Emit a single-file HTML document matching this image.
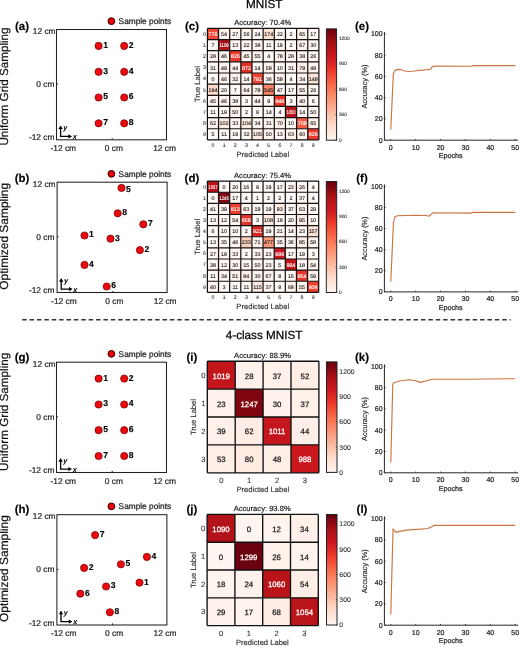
<!DOCTYPE html>
<html><head><meta charset="utf-8"><title>MNIST sampling figure</title>
<style>
html,body{margin:0;padding:0;background:#fff;}
body{width:520px;height:648px;overflow:hidden;}
svg{display:block;font-family:"Liberation Sans", Arial, sans-serif;text-rendering:geometricPrecision;}
</style></head>
<body>
<svg width="520" height="648" viewBox="0 0 520 648">
<rect width="520" height="648" fill="#fff"/>
<text x="264.3" y="8.3" font-size="11.7" text-anchor="middle" fill="#000" stroke="#000" stroke-width="0.25">MNIST</text>
<text transform="translate(8.4,86.5) rotate(-90)" font-size="11.7" text-anchor="middle" fill="#111" stroke="#111" stroke-width="0.2">Uniform Grid Sampling</text>
<circle cx="111.4" cy="21.15" r="3.4" fill="#e8000b" stroke="#3a0000" stroke-width="1.0"/>
<text x="118.6" y="24.2" font-size="8.3" text-anchor="start" fill="#1a1a1a" stroke="#1a1a1a" stroke-width="0.22">Sample points</text>
<rect x="56.5" y="29.5" width="110" height="110.3" fill="none" stroke="#222" stroke-width="1.05"/>
<line x1="56.5" y1="84.15" x2="58.1" y2="84.15" stroke="#222" stroke-width="1"/>
<line x1="112.2" y1="139.8" x2="112.2" y2="138.2" stroke="#222" stroke-width="1"/>
<text x="55.6" y="34" font-size="8.4" text-anchor="end" fill="#262626" stroke="#262626" stroke-width="0.22">12 cm</text>
<text x="54.5" y="86.85" font-size="8.4" text-anchor="end" fill="#262626" stroke="#262626" stroke-width="0.22">0 cm</text>
<text x="54.5" y="140.4" font-size="8.4" text-anchor="end" fill="#262626" stroke="#262626" stroke-width="0.22">-12 cm</text>
<text x="63.3" y="151.2" font-size="8.4" text-anchor="middle" fill="#262626" stroke="#262626" stroke-width="0.22">-12 cm</text>
<text x="113.8" y="151.2" font-size="8.4" text-anchor="middle" fill="#262626" stroke="#262626" stroke-width="0.22">0 cm</text>
<text x="164.6" y="151.2" font-size="8.4" text-anchor="middle" fill="#262626" stroke="#262626" stroke-width="0.22">12 cm</text>
<path d="M60.6 127.9 V136.4 M59.95 136.4 H69.6" stroke="#000" stroke-width="1.3" fill="none"/>
<path d="M60.6 125.4 l-2.2 3.6 h4.4 z" fill="#000"/>
<path d="M72 136.4 l-3.6 -2.2 v4.4 z" fill="#000"/>
<text x="63.6" y="130.2" font-size="7" text-anchor="start" font-style="italic" fill="#000" stroke="#000" stroke-width="0.3">y</text>
<text x="73" y="139" font-size="7" text-anchor="start" font-style="italic" fill="#000" stroke="#000" stroke-width="0.3">x</text>
<circle cx="98.6" cy="45.9" r="3.6" fill="#ec0a10" stroke="#780000" stroke-width="0.75"/>
<text x="103.2" y="47.8" font-size="8.6" text-anchor="start" font-weight="bold" fill="#000" stroke="#000" stroke-width="0.15">1</text>
<circle cx="124.2" cy="45.9" r="3.6" fill="#ec0a10" stroke="#780000" stroke-width="0.75"/>
<text x="128.8" y="47.8" font-size="8.6" text-anchor="start" font-weight="bold" fill="#000" stroke="#000" stroke-width="0.15">2</text>
<circle cx="98.6" cy="71.8" r="3.6" fill="#ec0a10" stroke="#780000" stroke-width="0.75"/>
<text x="103.2" y="73.7" font-size="8.6" text-anchor="start" font-weight="bold" fill="#000" stroke="#000" stroke-width="0.15">3</text>
<circle cx="124.2" cy="71.8" r="3.6" fill="#ec0a10" stroke="#780000" stroke-width="0.75"/>
<text x="128.8" y="73.7" font-size="8.6" text-anchor="start" font-weight="bold" fill="#000" stroke="#000" stroke-width="0.15">4</text>
<circle cx="98.6" cy="97.5" r="3.6" fill="#ec0a10" stroke="#780000" stroke-width="0.75"/>
<text x="103.2" y="99.4" font-size="8.6" text-anchor="start" font-weight="bold" fill="#000" stroke="#000" stroke-width="0.15">5</text>
<circle cx="124.2" cy="97.5" r="3.6" fill="#ec0a10" stroke="#780000" stroke-width="0.75"/>
<text x="128.8" y="99.4" font-size="8.6" text-anchor="start" font-weight="bold" fill="#000" stroke="#000" stroke-width="0.15">6</text>
<circle cx="98.6" cy="123.3" r="3.6" fill="#ec0a10" stroke="#780000" stroke-width="0.75"/>
<text x="103.2" y="125.2" font-size="8.6" text-anchor="start" font-weight="bold" fill="#000" stroke="#000" stroke-width="0.15">7</text>
<circle cx="124.2" cy="123.3" r="3.6" fill="#ec0a10" stroke="#780000" stroke-width="0.75"/>
<text x="128.8" y="125.2" font-size="8.6" text-anchor="start" font-weight="bold" fill="#000" stroke="#000" stroke-width="0.15">8</text>
<rect x="207.4" y="28.4" width="11.15" height="11.15" fill="#f24734"/>
<rect x="218.55" y="28.4" width="11.15" height="11.15" fill="#fff3ed"/>
<rect x="229.7" y="28.4" width="11.15" height="11.15" fill="#fff7f2"/>
<rect x="240.85" y="28.4" width="11.15" height="11.15" fill="#fff3ed"/>
<rect x="252" y="28.4" width="11.15" height="11.15" fill="#fff7f3"/>
<rect x="263.15" y="28.4" width="11.15" height="11.15" fill="#fedecf"/>
<rect x="274.3" y="28.4" width="11.15" height="11.15" fill="#fff7f3"/>
<rect x="285.45" y="28.4" width="11.15" height="11.15" fill="#fff9f7"/>
<rect x="296.6" y="28.4" width="11.15" height="11.15" fill="#fff2eb"/>
<rect x="307.75" y="28.4" width="11.15" height="11.15" fill="#fff8f4"/>
<rect x="207.4" y="39.55" width="11.15" height="11.15" fill="#fff9f6"/>
<rect x="218.55" y="39.55" width="11.15" height="11.15" fill="#ae1117"/>
<rect x="229.7" y="39.55" width="11.15" height="11.15" fill="#fff8f5"/>
<rect x="240.85" y="39.55" width="11.15" height="11.15" fill="#fff7f3"/>
<rect x="252" y="39.55" width="11.15" height="11.15" fill="#fff5f1"/>
<rect x="263.15" y="39.55" width="11.15" height="11.15" fill="#fff9f5"/>
<rect x="274.3" y="39.55" width="11.15" height="11.15" fill="#fff8f4"/>
<rect x="285.45" y="39.55" width="11.15" height="11.15" fill="#fff9f7"/>
<rect x="296.6" y="39.55" width="11.15" height="11.15" fill="#fff1eb"/>
<rect x="307.75" y="39.55" width="11.15" height="11.15" fill="#fff6f2"/>
<rect x="207.4" y="50.7" width="11.15" height="11.15" fill="#fff6f2"/>
<rect x="218.55" y="50.7" width="11.15" height="11.15" fill="#fff4ef"/>
<rect x="229.7" y="50.7" width="11.15" height="11.15" fill="#ed392b"/>
<rect x="240.85" y="50.7" width="11.15" height="11.15" fill="#fff4ef"/>
<rect x="252" y="50.7" width="11.15" height="11.15" fill="#fff3ed"/>
<rect x="263.15" y="50.7" width="11.15" height="11.15" fill="#fff9f6"/>
<rect x="274.3" y="50.7" width="11.15" height="11.15" fill="#fff0e9"/>
<rect x="285.45" y="50.7" width="11.15" height="11.15" fill="#fff6f2"/>
<rect x="296.6" y="50.7" width="11.15" height="11.15" fill="#fff5f1"/>
<rect x="307.75" y="50.7" width="11.15" height="11.15" fill="#fff7f3"/>
<rect x="207.4" y="61.85" width="11.15" height="11.15" fill="#fff6f2"/>
<rect x="218.55" y="61.85" width="11.15" height="11.15" fill="#fff4ee"/>
<rect x="229.7" y="61.85" width="11.15" height="11.15" fill="#fff4ef"/>
<rect x="240.85" y="61.85" width="11.15" height="11.15" fill="#e33027"/>
<rect x="252" y="61.85" width="11.15" height="11.15" fill="#fff8f4"/>
<rect x="263.15" y="61.85" width="11.15" height="11.15" fill="#fff3ec"/>
<rect x="274.3" y="61.85" width="11.15" height="11.15" fill="#fff9f5"/>
<rect x="285.45" y="61.85" width="11.15" height="11.15" fill="#fff6f2"/>
<rect x="296.6" y="61.85" width="11.15" height="11.15" fill="#ffefe8"/>
<rect x="307.75" y="61.85" width="11.15" height="11.15" fill="#fff4ef"/>
<rect x="207.4" y="73" width="11.15" height="11.15" fill="#fffaf7"/>
<rect x="218.55" y="73" width="11.15" height="11.15" fill="#fff4ef"/>
<rect x="229.7" y="73" width="11.15" height="11.15" fill="#fff6f2"/>
<rect x="240.85" y="73" width="11.15" height="11.15" fill="#fff8f4"/>
<rect x="252" y="73" width="11.15" height="11.15" fill="#f14331"/>
<rect x="263.15" y="73" width="11.15" height="11.15" fill="#fff5f1"/>
<rect x="274.3" y="73" width="11.15" height="11.15" fill="#fff2ec"/>
<rect x="285.45" y="73" width="11.15" height="11.15" fill="#fff9f6"/>
<rect x="296.6" y="73" width="11.15" height="11.15" fill="#fff6f1"/>
<rect x="307.75" y="73" width="11.15" height="11.15" fill="#fee3d6"/>
<rect x="207.4" y="84.15" width="11.15" height="11.15" fill="#fed9c9"/>
<rect x="218.55" y="84.15" width="11.15" height="11.15" fill="#fff7f3"/>
<rect x="229.7" y="84.15" width="11.15" height="11.15" fill="#fff9f6"/>
<rect x="240.85" y="84.15" width="11.15" height="11.15" fill="#fff2eb"/>
<rect x="252" y="84.15" width="11.15" height="11.15" fill="#fff0e9"/>
<rect x="263.15" y="84.15" width="11.15" height="11.15" fill="#fc8565"/>
<rect x="274.3" y="84.15" width="11.15" height="11.15" fill="#fff4ef"/>
<rect x="285.45" y="84.15" width="11.15" height="11.15" fill="#fff8f4"/>
<rect x="296.6" y="84.15" width="11.15" height="11.15" fill="#fff3ed"/>
<rect x="307.75" y="84.15" width="11.15" height="11.15" fill="#fff7f3"/>
<rect x="207.4" y="95.3" width="11.15" height="11.15" fill="#fff4ef"/>
<rect x="218.55" y="95.3" width="11.15" height="11.15" fill="#fff4ef"/>
<rect x="229.7" y="95.3" width="11.15" height="11.15" fill="#fff5f1"/>
<rect x="240.85" y="95.3" width="11.15" height="11.15" fill="#fff9f6"/>
<rect x="252" y="95.3" width="11.15" height="11.15" fill="#fff4ef"/>
<rect x="263.15" y="95.3" width="11.15" height="11.15" fill="#fff9f5"/>
<rect x="274.3" y="95.3" width="11.15" height="11.15" fill="#e93529"/>
<rect x="285.45" y="95.3" width="11.15" height="11.15" fill="#fff9f6"/>
<rect x="296.6" y="95.3" width="11.15" height="11.15" fill="#fff5f0"/>
<rect x="307.75" y="95.3" width="11.15" height="11.15" fill="#fff9f6"/>
<rect x="207.4" y="106.45" width="11.15" height="11.15" fill="#fff9f5"/>
<rect x="218.55" y="106.45" width="11.15" height="11.15" fill="#fff8f4"/>
<rect x="229.7" y="106.45" width="11.15" height="11.15" fill="#fff4ee"/>
<rect x="240.85" y="106.45" width="11.15" height="11.15" fill="#fff9f7"/>
<rect x="252" y="106.45" width="11.15" height="11.15" fill="#fff9f5"/>
<rect x="263.15" y="106.45" width="11.15" height="11.15" fill="#fff8f4"/>
<rect x="274.3" y="106.45" width="11.15" height="11.15" fill="#fff9f6"/>
<rect x="285.45" y="106.45" width="11.15" height="11.15" fill="#bb141a"/>
<rect x="296.6" y="106.45" width="11.15" height="11.15" fill="#fff8f4"/>
<rect x="307.75" y="106.45" width="11.15" height="11.15" fill="#fff4ee"/>
<rect x="207.4" y="117.6" width="11.15" height="11.15" fill="#fff2ec"/>
<rect x="218.55" y="117.6" width="11.15" height="11.15" fill="#feece2"/>
<rect x="229.7" y="117.6" width="11.15" height="11.15" fill="#fff6f1"/>
<rect x="240.85" y="117.6" width="11.15" height="11.15" fill="#feece2"/>
<rect x="252" y="117.6" width="11.15" height="11.15" fill="#fff6f1"/>
<rect x="263.15" y="117.6" width="11.15" height="11.15" fill="#fff6f2"/>
<rect x="274.3" y="117.6" width="11.15" height="11.15" fill="#fff1ea"/>
<rect x="285.45" y="117.6" width="11.15" height="11.15" fill="#fff9f5"/>
<rect x="296.6" y="117.6" width="11.15" height="11.15" fill="#f75b40"/>
<rect x="307.75" y="117.6" width="11.15" height="11.15" fill="#fff2eb"/>
<rect x="207.4" y="128.75" width="11.15" height="11.15" fill="#fff9f6"/>
<rect x="218.55" y="128.75" width="11.15" height="11.15" fill="#fff9f5"/>
<rect x="229.7" y="128.75" width="11.15" height="11.15" fill="#fff8f4"/>
<rect x="240.85" y="128.75" width="11.15" height="11.15" fill="#fff6f2"/>
<rect x="252" y="128.75" width="11.15" height="11.15" fill="#feebe2"/>
<rect x="263.15" y="128.75" width="11.15" height="11.15" fill="#fff4ee"/>
<rect x="274.3" y="128.75" width="11.15" height="11.15" fill="#fff8f5"/>
<rect x="285.45" y="128.75" width="11.15" height="11.15" fill="#fff2eb"/>
<rect x="296.6" y="128.75" width="11.15" height="11.15" fill="#fff2ec"/>
<rect x="307.75" y="128.75" width="11.15" height="11.15" fill="#ed392b"/>
<path d="M207.4 28.4V139.9M207.4 28.4H318.9M218.55 28.4V139.9M207.4 39.55H318.9M229.7 28.4V139.9M207.4 50.7H318.9M240.85 28.4V139.9M207.4 61.85H318.9M252 28.4V139.9M207.4 73H318.9M263.15 28.4V139.9M207.4 84.15H318.9M274.3 28.4V139.9M207.4 95.3H318.9M285.45 28.4V139.9M207.4 106.45H318.9M296.6 28.4V139.9M207.4 117.6H318.9M307.75 28.4V139.9M207.4 128.75H318.9M318.9 28.4V139.9M207.4 139.9H318.9" stroke="#111" stroke-width="1.2" fill="none"/>
<text x="212.97" y="36.12" font-size="5.4" text-anchor="middle" fill="#ffffff" stroke="#ffffff" stroke-width="0.12">776</text>
<text x="224.12" y="36.12" font-size="5.4" text-anchor="middle" fill="#222" stroke="#222" stroke-width="0.12">54</text>
<text x="235.28" y="36.12" font-size="5.4" text-anchor="middle" fill="#222" stroke="#222" stroke-width="0.12">27</text>
<text x="246.43" y="36.12" font-size="5.4" text-anchor="middle" fill="#222" stroke="#222" stroke-width="0.12">56</text>
<text x="257.57" y="36.12" font-size="5.4" text-anchor="middle" fill="#222" stroke="#222" stroke-width="0.12">24</text>
<text x="268.73" y="36.12" font-size="5.4" text-anchor="middle" fill="#222" stroke="#222" stroke-width="0.12">174</text>
<text x="279.88" y="36.12" font-size="5.4" text-anchor="middle" fill="#222" stroke="#222" stroke-width="0.12">22</text>
<text x="291.02" y="36.12" font-size="5.4" text-anchor="middle" fill="#222" stroke="#222" stroke-width="0.12">2</text>
<text x="302.18" y="36.12" font-size="5.4" text-anchor="middle" fill="#222" stroke="#222" stroke-width="0.12">65</text>
<text x="313.32" y="36.12" font-size="5.4" text-anchor="middle" fill="#222" stroke="#222" stroke-width="0.12">17</text>
<text x="212.97" y="47.27" font-size="5.4" text-anchor="middle" fill="#222" stroke="#222" stroke-width="0.12">7</text>
<text x="224.12" y="47.27" font-size="5.4" text-anchor="middle" fill="#ffffff" textLength="9.2" lengthAdjust="spacingAndGlyphs" stroke="#ffffff" stroke-width="0.12">1109</text>
<text x="235.28" y="47.27" font-size="5.4" text-anchor="middle" fill="#222" stroke="#222" stroke-width="0.12">13</text>
<text x="246.43" y="47.27" font-size="5.4" text-anchor="middle" fill="#222" stroke="#222" stroke-width="0.12">22</text>
<text x="257.57" y="47.27" font-size="5.4" text-anchor="middle" fill="#222" stroke="#222" stroke-width="0.12">38</text>
<text x="268.73" y="47.27" font-size="5.4" text-anchor="middle" fill="#222" stroke="#222" stroke-width="0.12">11</text>
<text x="279.88" y="47.27" font-size="5.4" text-anchor="middle" fill="#222" stroke="#222" stroke-width="0.12">19</text>
<text x="291.02" y="47.27" font-size="5.4" text-anchor="middle" fill="#222" stroke="#222" stroke-width="0.12">2</text>
<text x="302.18" y="47.27" font-size="5.4" text-anchor="middle" fill="#222" stroke="#222" stroke-width="0.12">67</text>
<text x="313.32" y="47.27" font-size="5.4" text-anchor="middle" fill="#222" stroke="#222" stroke-width="0.12">30</text>
<text x="212.97" y="58.42" font-size="5.4" text-anchor="middle" fill="#222" stroke="#222" stroke-width="0.12">28</text>
<text x="224.12" y="58.42" font-size="5.4" text-anchor="middle" fill="#222" stroke="#222" stroke-width="0.12">46</text>
<text x="235.28" y="58.42" font-size="5.4" text-anchor="middle" fill="#ffffff" stroke="#ffffff" stroke-width="0.12">826</text>
<text x="246.43" y="58.42" font-size="5.4" text-anchor="middle" fill="#222" stroke="#222" stroke-width="0.12">45</text>
<text x="257.57" y="58.42" font-size="5.4" text-anchor="middle" fill="#222" stroke="#222" stroke-width="0.12">55</text>
<text x="268.73" y="58.42" font-size="5.4" text-anchor="middle" fill="#222" stroke="#222" stroke-width="0.12">4</text>
<text x="279.88" y="58.42" font-size="5.4" text-anchor="middle" fill="#222" stroke="#222" stroke-width="0.12">78</text>
<text x="291.02" y="58.42" font-size="5.4" text-anchor="middle" fill="#222" stroke="#222" stroke-width="0.12">28</text>
<text x="302.18" y="58.42" font-size="5.4" text-anchor="middle" fill="#222" stroke="#222" stroke-width="0.12">38</text>
<text x="313.32" y="58.42" font-size="5.4" text-anchor="middle" fill="#222" stroke="#222" stroke-width="0.12">26</text>
<text x="212.97" y="69.57" font-size="5.4" text-anchor="middle" fill="#222" stroke="#222" stroke-width="0.12">31</text>
<text x="224.12" y="69.57" font-size="5.4" text-anchor="middle" fill="#222" stroke="#222" stroke-width="0.12">49</text>
<text x="235.28" y="69.57" font-size="5.4" text-anchor="middle" fill="#222" stroke="#222" stroke-width="0.12">44</text>
<text x="246.43" y="69.57" font-size="5.4" text-anchor="middle" fill="#ffffff" stroke="#ffffff" stroke-width="0.12">872</text>
<text x="257.57" y="69.57" font-size="5.4" text-anchor="middle" fill="#222" stroke="#222" stroke-width="0.12">14</text>
<text x="268.73" y="69.57" font-size="5.4" text-anchor="middle" fill="#222" stroke="#222" stroke-width="0.12">58</text>
<text x="279.88" y="69.57" font-size="5.4" text-anchor="middle" fill="#222" stroke="#222" stroke-width="0.12">10</text>
<text x="291.02" y="69.57" font-size="5.4" text-anchor="middle" fill="#222" stroke="#222" stroke-width="0.12">31</text>
<text x="302.18" y="69.57" font-size="5.4" text-anchor="middle" fill="#222" stroke="#222" stroke-width="0.12">79</text>
<text x="313.32" y="69.57" font-size="5.4" text-anchor="middle" fill="#222" stroke="#222" stroke-width="0.12">48</text>
<text x="212.97" y="80.72" font-size="5.4" text-anchor="middle" fill="#222" stroke="#222" stroke-width="0.12">0</text>
<text x="224.12" y="80.72" font-size="5.4" text-anchor="middle" fill="#222" stroke="#222" stroke-width="0.12">46</text>
<text x="235.28" y="80.72" font-size="5.4" text-anchor="middle" fill="#222" stroke="#222" stroke-width="0.12">32</text>
<text x="246.43" y="80.72" font-size="5.4" text-anchor="middle" fill="#222" stroke="#222" stroke-width="0.12">14</text>
<text x="257.57" y="80.72" font-size="5.4" text-anchor="middle" fill="#ffffff" stroke="#ffffff" stroke-width="0.12">791</text>
<text x="268.73" y="80.72" font-size="5.4" text-anchor="middle" fill="#222" stroke="#222" stroke-width="0.12">36</text>
<text x="279.88" y="80.72" font-size="5.4" text-anchor="middle" fill="#222" stroke="#222" stroke-width="0.12">59</text>
<text x="291.02" y="80.72" font-size="5.4" text-anchor="middle" fill="#222" stroke="#222" stroke-width="0.12">4</text>
<text x="302.18" y="80.72" font-size="5.4" text-anchor="middle" fill="#222" stroke="#222" stroke-width="0.12">34</text>
<text x="313.32" y="80.72" font-size="5.4" text-anchor="middle" fill="#222" stroke="#222" stroke-width="0.12">149</text>
<text x="212.97" y="91.87" font-size="5.4" text-anchor="middle" fill="#222" stroke="#222" stroke-width="0.12">194</text>
<text x="224.12" y="91.87" font-size="5.4" text-anchor="middle" fill="#222" stroke="#222" stroke-width="0.12">20</text>
<text x="235.28" y="91.87" font-size="5.4" text-anchor="middle" fill="#222" stroke="#222" stroke-width="0.12">7</text>
<text x="246.43" y="91.87" font-size="5.4" text-anchor="middle" fill="#222" stroke="#222" stroke-width="0.12">64</text>
<text x="257.57" y="91.87" font-size="5.4" text-anchor="middle" fill="#222" stroke="#222" stroke-width="0.12">78</text>
<text x="268.73" y="91.87" font-size="5.4" text-anchor="middle" fill="#222" stroke="#222" stroke-width="0.12">545</text>
<text x="279.88" y="91.87" font-size="5.4" text-anchor="middle" fill="#222" stroke="#222" stroke-width="0.12">47</text>
<text x="291.02" y="91.87" font-size="5.4" text-anchor="middle" fill="#222" stroke="#222" stroke-width="0.12">17</text>
<text x="302.18" y="91.87" font-size="5.4" text-anchor="middle" fill="#222" stroke="#222" stroke-width="0.12">55</text>
<text x="313.32" y="91.87" font-size="5.4" text-anchor="middle" fill="#222" stroke="#222" stroke-width="0.12">26</text>
<text x="212.97" y="103.02" font-size="5.4" text-anchor="middle" fill="#222" stroke="#222" stroke-width="0.12">45</text>
<text x="224.12" y="103.02" font-size="5.4" text-anchor="middle" fill="#222" stroke="#222" stroke-width="0.12">46</text>
<text x="235.28" y="103.02" font-size="5.4" text-anchor="middle" fill="#222" stroke="#222" stroke-width="0.12">38</text>
<text x="246.43" y="103.02" font-size="5.4" text-anchor="middle" fill="#222" stroke="#222" stroke-width="0.12">3</text>
<text x="257.57" y="103.02" font-size="5.4" text-anchor="middle" fill="#222" stroke="#222" stroke-width="0.12">44</text>
<text x="268.73" y="103.02" font-size="5.4" text-anchor="middle" fill="#222" stroke="#222" stroke-width="0.12">9</text>
<text x="279.88" y="103.02" font-size="5.4" text-anchor="middle" fill="#ffffff" stroke="#ffffff" stroke-width="0.12">848</text>
<text x="291.02" y="103.02" font-size="5.4" text-anchor="middle" fill="#222" stroke="#222" stroke-width="0.12">3</text>
<text x="302.18" y="103.02" font-size="5.4" text-anchor="middle" fill="#222" stroke="#222" stroke-width="0.12">40</text>
<text x="313.32" y="103.02" font-size="5.4" text-anchor="middle" fill="#222" stroke="#222" stroke-width="0.12">6</text>
<text x="212.97" y="114.17" font-size="5.4" text-anchor="middle" fill="#222" stroke="#222" stroke-width="0.12">11</text>
<text x="224.12" y="114.17" font-size="5.4" text-anchor="middle" fill="#222" stroke="#222" stroke-width="0.12">19</text>
<text x="235.28" y="114.17" font-size="5.4" text-anchor="middle" fill="#222" stroke="#222" stroke-width="0.12">50</text>
<text x="246.43" y="114.17" font-size="5.4" text-anchor="middle" fill="#222" stroke="#222" stroke-width="0.12">2</text>
<text x="257.57" y="114.17" font-size="5.4" text-anchor="middle" fill="#222" stroke="#222" stroke-width="0.12">9</text>
<text x="268.73" y="114.17" font-size="5.4" text-anchor="middle" fill="#222" stroke="#222" stroke-width="0.12">14</text>
<text x="279.88" y="114.17" font-size="5.4" text-anchor="middle" fill="#222" stroke="#222" stroke-width="0.12">4</text>
<text x="291.02" y="114.17" font-size="5.4" text-anchor="middle" fill="#ffffff" textLength="9.2" lengthAdjust="spacingAndGlyphs" stroke="#ffffff" stroke-width="0.12">1050</text>
<text x="302.18" y="114.17" font-size="5.4" text-anchor="middle" fill="#222" stroke="#222" stroke-width="0.12">14</text>
<text x="313.32" y="114.17" font-size="5.4" text-anchor="middle" fill="#222" stroke="#222" stroke-width="0.12">50</text>
<text x="212.97" y="125.32" font-size="5.4" text-anchor="middle" fill="#222" stroke="#222" stroke-width="0.12">62</text>
<text x="224.12" y="125.32" font-size="5.4" text-anchor="middle" fill="#222" stroke="#222" stroke-width="0.12">102</text>
<text x="235.28" y="125.32" font-size="5.4" text-anchor="middle" fill="#222" stroke="#222" stroke-width="0.12">33</text>
<text x="246.43" y="125.32" font-size="5.4" text-anchor="middle" fill="#222" stroke="#222" stroke-width="0.12">104</text>
<text x="257.57" y="125.32" font-size="5.4" text-anchor="middle" fill="#222" stroke="#222" stroke-width="0.12">34</text>
<text x="268.73" y="125.32" font-size="5.4" text-anchor="middle" fill="#222" stroke="#222" stroke-width="0.12">31</text>
<text x="279.88" y="125.32" font-size="5.4" text-anchor="middle" fill="#222" stroke="#222" stroke-width="0.12">70</text>
<text x="291.02" y="125.32" font-size="5.4" text-anchor="middle" fill="#222" stroke="#222" stroke-width="0.12">10</text>
<text x="302.18" y="125.32" font-size="5.4" text-anchor="middle" fill="#ffffff" stroke="#ffffff" stroke-width="0.12">709</text>
<text x="313.32" y="125.32" font-size="5.4" text-anchor="middle" fill="#222" stroke="#222" stroke-width="0.12">65</text>
<text x="212.97" y="136.47" font-size="5.4" text-anchor="middle" fill="#222" stroke="#222" stroke-width="0.12">5</text>
<text x="224.12" y="136.47" font-size="5.4" text-anchor="middle" fill="#222" stroke="#222" stroke-width="0.12">11</text>
<text x="235.28" y="136.47" font-size="5.4" text-anchor="middle" fill="#222" stroke="#222" stroke-width="0.12">19</text>
<text x="246.43" y="136.47" font-size="5.4" text-anchor="middle" fill="#222" stroke="#222" stroke-width="0.12">32</text>
<text x="257.57" y="136.47" font-size="5.4" text-anchor="middle" fill="#222" stroke="#222" stroke-width="0.12">105</text>
<text x="268.73" y="136.47" font-size="5.4" text-anchor="middle" fill="#222" stroke="#222" stroke-width="0.12">50</text>
<text x="279.88" y="136.47" font-size="5.4" text-anchor="middle" fill="#222" stroke="#222" stroke-width="0.12">13</text>
<text x="291.02" y="136.47" font-size="5.4" text-anchor="middle" fill="#222" stroke="#222" stroke-width="0.12">63</text>
<text x="302.18" y="136.47" font-size="5.4" text-anchor="middle" fill="#222" stroke="#222" stroke-width="0.12">60</text>
<text x="313.32" y="136.47" font-size="5.4" text-anchor="middle" fill="#ffffff" stroke="#ffffff" stroke-width="0.12">826</text>
<text x="204.4" y="35.85" font-size="5.2" text-anchor="middle" fill="#333" stroke="#333" stroke-width="0.1">0</text>
<text x="212.97" y="146.67" font-size="5.2" text-anchor="middle" fill="#333" stroke="#333" stroke-width="0.1">0</text>
<text x="204.4" y="47" font-size="5.2" text-anchor="middle" fill="#333" stroke="#333" stroke-width="0.1">1</text>
<text x="224.12" y="146.67" font-size="5.2" text-anchor="middle" fill="#333" stroke="#333" stroke-width="0.1">1</text>
<text x="204.4" y="58.15" font-size="5.2" text-anchor="middle" fill="#333" stroke="#333" stroke-width="0.1">2</text>
<text x="235.28" y="146.67" font-size="5.2" text-anchor="middle" fill="#333" stroke="#333" stroke-width="0.1">2</text>
<text x="204.4" y="69.3" font-size="5.2" text-anchor="middle" fill="#333" stroke="#333" stroke-width="0.1">3</text>
<text x="246.43" y="146.67" font-size="5.2" text-anchor="middle" fill="#333" stroke="#333" stroke-width="0.1">3</text>
<text x="204.4" y="80.45" font-size="5.2" text-anchor="middle" fill="#333" stroke="#333" stroke-width="0.1">4</text>
<text x="257.57" y="146.67" font-size="5.2" text-anchor="middle" fill="#333" stroke="#333" stroke-width="0.1">4</text>
<text x="204.4" y="91.6" font-size="5.2" text-anchor="middle" fill="#333" stroke="#333" stroke-width="0.1">5</text>
<text x="268.73" y="146.67" font-size="5.2" text-anchor="middle" fill="#333" stroke="#333" stroke-width="0.1">5</text>
<text x="204.4" y="102.75" font-size="5.2" text-anchor="middle" fill="#333" stroke="#333" stroke-width="0.1">6</text>
<text x="279.88" y="146.67" font-size="5.2" text-anchor="middle" fill="#333" stroke="#333" stroke-width="0.1">6</text>
<text x="204.4" y="113.9" font-size="5.2" text-anchor="middle" fill="#333" stroke="#333" stroke-width="0.1">7</text>
<text x="291.02" y="146.67" font-size="5.2" text-anchor="middle" fill="#333" stroke="#333" stroke-width="0.1">7</text>
<text x="204.4" y="125.05" font-size="5.2" text-anchor="middle" fill="#333" stroke="#333" stroke-width="0.1">8</text>
<text x="302.18" y="146.67" font-size="5.2" text-anchor="middle" fill="#333" stroke="#333" stroke-width="0.1">8</text>
<text x="204.4" y="136.2" font-size="5.2" text-anchor="middle" fill="#333" stroke="#333" stroke-width="0.1">9</text>
<text x="313.32" y="146.67" font-size="5.2" text-anchor="middle" fill="#333" stroke="#333" stroke-width="0.1">9</text>
<text x="262.65" y="25.1" font-size="7.6" text-anchor="middle" fill="#111" stroke="#111" stroke-width="0.15">Accuracy: 70.4%</text>
<text transform="translate(199.7,84.15) rotate(-90)" font-size="7.6" text-anchor="middle" fill="#333" stroke="#333" stroke-width="0.15">True Label</text>
<text x="262.85" y="156.5" font-size="7.6" text-anchor="middle" fill="#333" stroke="#333" stroke-width="0.15">Predicted Label</text>
<defs><linearGradient id="gc" x1="0" y1="0" x2="0" y2="1"><stop offset="0" stop-color="#67000d"/><stop offset="0.12" stop-color="#a50f15"/><stop offset="0.25" stop-color="#cb181d"/><stop offset="0.38" stop-color="#ef3b2c"/><stop offset="0.5" stop-color="#fb6a4a"/><stop offset="0.62" stop-color="#fc9272"/><stop offset="0.75" stop-color="#fcbba1"/><stop offset="0.88" stop-color="#fee0d2"/><stop offset="1" stop-color="#fff5f0"/></linearGradient></defs>
<rect x="326.4" y="28.9" width="10.2" height="111.3" fill="url(#gc)" stroke="#222" stroke-width="1"/>
<line x1="335.3" y1="140.2" x2="336.6" y2="140.2" stroke="#222" stroke-width="0.7"/>
<text x="338.9" y="141.93" font-size="4.8" text-anchor="start" fill="#333" stroke="#333" stroke-width="0.1">0</text>
<line x1="335.3" y1="114.71" x2="336.6" y2="114.71" stroke="#222" stroke-width="0.7"/>
<text x="338.9" y="116.44" font-size="4.8" text-anchor="start" fill="#333" stroke="#333" stroke-width="0.1">300</text>
<line x1="335.3" y1="89.22" x2="336.6" y2="89.22" stroke="#222" stroke-width="0.7"/>
<text x="338.9" y="90.95" font-size="4.8" text-anchor="start" fill="#333" stroke="#333" stroke-width="0.1">600</text>
<line x1="335.3" y1="63.73" x2="336.6" y2="63.73" stroke="#222" stroke-width="0.7"/>
<text x="338.9" y="65.46" font-size="4.8" text-anchor="start" fill="#333" stroke="#333" stroke-width="0.1">900</text>
<line x1="335.3" y1="38.25" x2="336.6" y2="38.25" stroke="#222" stroke-width="0.7"/>
<text x="338.9" y="39.97" font-size="4.8" text-anchor="start" fill="#333" stroke="#333" stroke-width="0.1">1200</text>
<path d="M384.4 32 V140.2 H518.2" stroke="#262626" stroke-width="1" fill="none"/>
<line x1="384.4" y1="140.2" x2="385.7" y2="140.2" stroke="#262626" stroke-width="0.8"/>
<text x="382.6" y="142.72" font-size="7" text-anchor="end" fill="#262626" stroke="#262626" stroke-width="0.22">0</text>
<line x1="384.4" y1="118.94" x2="385.7" y2="118.94" stroke="#262626" stroke-width="0.8"/>
<text x="382.6" y="121.46" font-size="7" text-anchor="end" fill="#262626" stroke="#262626" stroke-width="0.22">20</text>
<line x1="384.4" y1="97.68" x2="385.7" y2="97.68" stroke="#262626" stroke-width="0.8"/>
<text x="382.6" y="100.2" font-size="7" text-anchor="end" fill="#262626" stroke="#262626" stroke-width="0.22">40</text>
<line x1="384.4" y1="76.42" x2="385.7" y2="76.42" stroke="#262626" stroke-width="0.8"/>
<text x="382.6" y="78.94" font-size="7" text-anchor="end" fill="#262626" stroke="#262626" stroke-width="0.22">60</text>
<line x1="384.4" y1="55.16" x2="385.7" y2="55.16" stroke="#262626" stroke-width="0.8"/>
<text x="382.6" y="57.68" font-size="7" text-anchor="end" fill="#262626" stroke="#262626" stroke-width="0.22">80</text>
<line x1="384.4" y1="33.9" x2="385.7" y2="33.9" stroke="#262626" stroke-width="0.8"/>
<text x="382.6" y="36.42" font-size="7" text-anchor="end" fill="#262626" stroke="#262626" stroke-width="0.22">100</text>
<line x1="390.8" y1="140.2" x2="390.8" y2="138.9" stroke="#262626" stroke-width="0.8"/>
<text x="390.8" y="149.72" font-size="7" text-anchor="middle" fill="#262626" stroke="#262626" stroke-width="0.22">0</text>
<line x1="415.68" y1="140.2" x2="415.68" y2="138.9" stroke="#262626" stroke-width="0.8"/>
<text x="415.68" y="149.72" font-size="7" text-anchor="middle" fill="#262626" stroke="#262626" stroke-width="0.22">10</text>
<line x1="440.56" y1="140.2" x2="440.56" y2="138.9" stroke="#262626" stroke-width="0.8"/>
<text x="440.56" y="149.72" font-size="7" text-anchor="middle" fill="#262626" stroke="#262626" stroke-width="0.22">20</text>
<line x1="465.44" y1="140.2" x2="465.44" y2="138.9" stroke="#262626" stroke-width="0.8"/>
<text x="465.44" y="149.72" font-size="7" text-anchor="middle" fill="#262626" stroke="#262626" stroke-width="0.22">30</text>
<line x1="490.32" y1="140.2" x2="490.32" y2="138.9" stroke="#262626" stroke-width="0.8"/>
<text x="490.32" y="149.72" font-size="7" text-anchor="middle" fill="#262626" stroke="#262626" stroke-width="0.22">40</text>
<line x1="515.2" y1="140.2" x2="515.2" y2="138.9" stroke="#262626" stroke-width="0.8"/>
<text x="515.2" y="149.72" font-size="7" text-anchor="middle" fill="#262626" stroke="#262626" stroke-width="0.22">50</text>
<text x="450.7" y="158.4" font-size="7.2" text-anchor="middle" fill="#262626" stroke="#262626" stroke-width="0.22">Epochs</text>
<text transform="translate(367.4,86.55) rotate(-90)" font-size="7.4" text-anchor="middle" fill="#262626" stroke="#262626" stroke-width="0.15">Accuracy (%)</text>
<path d="M390.8 129.75 L393.29 74.2 L394.53 71 L395.4 70.1 L398.76 69.4 L401.5 69.8 L404.73 71.05 L409.46 71.5 L414.19 71.05 L419.66 70.4 L426.38 69.7 L430.36 69.4 L432.35 66.7 L433.84 66.1 L471.66 66.3 L472.9 65.5 L515.2 65.6" stroke="#cc7442" stroke-width="1.15" fill="none" stroke-linejoin="round"/>
<text transform="translate(8.4,236.3) rotate(-90)" font-size="11.95" text-anchor="middle" fill="#111" stroke="#111" stroke-width="0.2">Optimized Sampling</text>
<circle cx="111.4" cy="173.85" r="3.4" fill="#e8000b" stroke="#3a0000" stroke-width="1.0"/>
<text x="118.6" y="176.9" font-size="8.3" text-anchor="start" fill="#1a1a1a" stroke="#1a1a1a" stroke-width="0.22">Sample points</text>
<rect x="57.1" y="182.2" width="110" height="110.3" fill="none" stroke="#222" stroke-width="1.05"/>
<line x1="57.1" y1="236.85" x2="58.7" y2="236.85" stroke="#222" stroke-width="1"/>
<line x1="112.8" y1="292.5" x2="112.8" y2="290.9" stroke="#222" stroke-width="1"/>
<text x="55.6" y="186.7" font-size="8.4" text-anchor="end" fill="#262626" stroke="#262626" stroke-width="0.22">12 cm</text>
<text x="54.5" y="239.55" font-size="8.4" text-anchor="end" fill="#262626" stroke="#262626" stroke-width="0.22">0 cm</text>
<text x="54.5" y="293.1" font-size="8.4" text-anchor="end" fill="#262626" stroke="#262626" stroke-width="0.22">-12 cm</text>
<text x="63.9" y="303.9" font-size="8.4" text-anchor="middle" fill="#262626" stroke="#262626" stroke-width="0.22">-12 cm</text>
<text x="114.4" y="303.9" font-size="8.4" text-anchor="middle" fill="#262626" stroke="#262626" stroke-width="0.22">0 cm</text>
<text x="165.2" y="303.9" font-size="8.4" text-anchor="middle" fill="#262626" stroke="#262626" stroke-width="0.22">12 cm</text>
<path d="M61.2 280.6 V289.1 M60.55 289.1 H70.2" stroke="#000" stroke-width="1.3" fill="none"/>
<path d="M61.2 278.1 l-2.2 3.6 h4.4 z" fill="#000"/>
<path d="M72.6 289.1 l-3.6 -2.2 v4.4 z" fill="#000"/>
<text x="64.2" y="282.9" font-size="7" text-anchor="start" font-style="italic" fill="#000" stroke="#000" stroke-width="0.3">y</text>
<text x="73.6" y="291.7" font-size="7" text-anchor="start" font-style="italic" fill="#000" stroke="#000" stroke-width="0.3">x</text>
<circle cx="121.5" cy="187.9" r="3.6" fill="#ec0a10" stroke="#780000" stroke-width="0.75"/>
<text x="126.1" y="191.8" font-size="8.6" text-anchor="start" font-weight="bold" fill="#000" stroke="#000" stroke-width="0.15">5</text>
<circle cx="117.7" cy="213.3" r="3.6" fill="#ec0a10" stroke="#780000" stroke-width="0.75"/>
<text x="122.3" y="215.2" font-size="8.6" text-anchor="start" font-weight="bold" fill="#000" stroke="#000" stroke-width="0.15">8</text>
<circle cx="143.3" cy="224.3" r="3.6" fill="#ec0a10" stroke="#780000" stroke-width="0.75"/>
<text x="147.9" y="226.2" font-size="8.6" text-anchor="start" font-weight="bold" fill="#000" stroke="#000" stroke-width="0.15">7</text>
<circle cx="84.5" cy="235.5" r="3.6" fill="#ec0a10" stroke="#780000" stroke-width="0.75"/>
<text x="89.1" y="237.4" font-size="8.6" text-anchor="start" font-weight="bold" fill="#000" stroke="#000" stroke-width="0.15">1</text>
<circle cx="110.5" cy="238.7" r="3.6" fill="#ec0a10" stroke="#780000" stroke-width="0.75"/>
<text x="115.1" y="240.6" font-size="8.6" text-anchor="start" font-weight="bold" fill="#000" stroke="#000" stroke-width="0.15">3</text>
<circle cx="139.9" cy="250.1" r="3.6" fill="#ec0a10" stroke="#780000" stroke-width="0.75"/>
<text x="144.5" y="252" font-size="8.6" text-anchor="start" font-weight="bold" fill="#000" stroke="#000" stroke-width="0.15">2</text>
<circle cx="84.5" cy="264.9" r="3.6" fill="#ec0a10" stroke="#780000" stroke-width="0.75"/>
<text x="89.1" y="266.8" font-size="8.6" text-anchor="start" font-weight="bold" fill="#000" stroke="#000" stroke-width="0.15">4</text>
<circle cx="106.7" cy="286.5" r="3.6" fill="#ec0a10" stroke="#780000" stroke-width="0.75"/>
<text x="111.3" y="288.4" font-size="8.6" text-anchor="start" font-weight="bold" fill="#000" stroke="#000" stroke-width="0.15">6</text>
<rect x="207.4" y="181.1" width="11.13" height="11.13" fill="#b71319"/>
<rect x="218.53" y="181.1" width="11.13" height="11.13" fill="#fffaf7"/>
<rect x="229.66" y="181.1" width="11.13" height="11.13" fill="#fff7f3"/>
<rect x="240.79" y="181.1" width="11.13" height="11.13" fill="#fff8f4"/>
<rect x="251.92" y="181.1" width="11.13" height="11.13" fill="#fff9f5"/>
<rect x="263.05" y="181.1" width="11.13" height="11.13" fill="#fff8f4"/>
<rect x="274.18" y="181.1" width="11.13" height="11.13" fill="#fff8f4"/>
<rect x="285.31" y="181.1" width="11.13" height="11.13" fill="#fff7f3"/>
<rect x="296.44" y="181.1" width="11.13" height="11.13" fill="#fff7f3"/>
<rect x="307.57" y="181.1" width="11.13" height="11.13" fill="#fff9f6"/>
<rect x="207.4" y="192.23" width="11.13" height="11.13" fill="#fffaf7"/>
<rect x="218.53" y="192.23" width="11.13" height="11.13" fill="#7f0610"/>
<rect x="229.66" y="192.23" width="11.13" height="11.13" fill="#fff8f4"/>
<rect x="240.79" y="192.23" width="11.13" height="11.13" fill="#fff9f6"/>
<rect x="251.92" y="192.23" width="11.13" height="11.13" fill="#fff9f7"/>
<rect x="263.05" y="192.23" width="11.13" height="11.13" fill="#fff9f7"/>
<rect x="274.18" y="192.23" width="11.13" height="11.13" fill="#fff9f7"/>
<rect x="285.31" y="192.23" width="11.13" height="11.13" fill="#fff9f7"/>
<rect x="296.44" y="192.23" width="11.13" height="11.13" fill="#fff5f1"/>
<rect x="307.57" y="192.23" width="11.13" height="11.13" fill="#fff9f6"/>
<rect x="207.4" y="203.36" width="11.13" height="11.13" fill="#fff5f0"/>
<rect x="218.53" y="203.36" width="11.13" height="11.13" fill="#fff5f0"/>
<rect x="229.66" y="203.36" width="11.13" height="11.13" fill="#ef3d2d"/>
<rect x="240.79" y="203.36" width="11.13" height="11.13" fill="#fff2eb"/>
<rect x="251.92" y="203.36" width="11.13" height="11.13" fill="#fff8f4"/>
<rect x="263.05" y="203.36" width="11.13" height="11.13" fill="#fff8f4"/>
<rect x="274.18" y="203.36" width="11.13" height="11.13" fill="#feede5"/>
<rect x="285.31" y="203.36" width="11.13" height="11.13" fill="#fff5f1"/>
<rect x="296.44" y="203.36" width="11.13" height="11.13" fill="#fff2eb"/>
<rect x="307.57" y="203.36" width="11.13" height="11.13" fill="#fff6f2"/>
<rect x="207.4" y="214.49" width="11.13" height="11.13" fill="#fff8f5"/>
<rect x="218.53" y="214.49" width="11.13" height="11.13" fill="#fff8f5"/>
<rect x="229.66" y="214.49" width="11.13" height="11.13" fill="#fff3ed"/>
<rect x="240.79" y="214.49" width="11.13" height="11.13" fill="#e63328"/>
<rect x="251.92" y="214.49" width="11.13" height="11.13" fill="#fff9f6"/>
<rect x="263.05" y="214.49" width="11.13" height="11.13" fill="#feeae1"/>
<rect x="274.18" y="214.49" width="11.13" height="11.13" fill="#fff8f4"/>
<rect x="285.31" y="214.49" width="11.13" height="11.13" fill="#fff7f3"/>
<rect x="296.44" y="214.49" width="11.13" height="11.13" fill="#feede5"/>
<rect x="307.57" y="214.49" width="11.13" height="11.13" fill="#fff9f5"/>
<rect x="207.4" y="225.62" width="11.13" height="11.13" fill="#fff9f6"/>
<rect x="218.53" y="225.62" width="11.13" height="11.13" fill="#fff9f5"/>
<rect x="229.66" y="225.62" width="11.13" height="11.13" fill="#fff9f5"/>
<rect x="240.79" y="225.62" width="11.13" height="11.13" fill="#fff9f7"/>
<rect x="251.92" y="225.62" width="11.13" height="11.13" fill="#d92523"/>
<rect x="263.05" y="225.62" width="11.13" height="11.13" fill="#fff8f4"/>
<rect x="274.18" y="225.62" width="11.13" height="11.13" fill="#fff7f3"/>
<rect x="285.31" y="225.62" width="11.13" height="11.13" fill="#fff8f4"/>
<rect x="296.44" y="225.62" width="11.13" height="11.13" fill="#fff7f3"/>
<rect x="307.57" y="225.62" width="11.13" height="11.13" fill="#fee1d3"/>
<rect x="207.4" y="236.75" width="11.13" height="11.13" fill="#fff8f5"/>
<rect x="218.53" y="236.75" width="11.13" height="11.13" fill="#fff6f1"/>
<rect x="229.66" y="236.75" width="11.13" height="11.13" fill="#fff4ef"/>
<rect x="240.79" y="236.75" width="11.13" height="11.13" fill="#fdd0bd"/>
<rect x="251.92" y="236.75" width="11.13" height="11.13" fill="#fff1ea"/>
<rect x="263.05" y="236.75" width="11.13" height="11.13" fill="#fc9676"/>
<rect x="274.18" y="236.75" width="11.13" height="11.13" fill="#fff6f1"/>
<rect x="285.31" y="236.75" width="11.13" height="11.13" fill="#fff5f1"/>
<rect x="296.44" y="236.75" width="11.13" height="11.13" fill="#feeee6"/>
<rect x="307.57" y="236.75" width="11.13" height="11.13" fill="#fff3ec"/>
<rect x="207.4" y="247.88" width="11.13" height="11.13" fill="#fff7f2"/>
<rect x="218.53" y="247.88" width="11.13" height="11.13" fill="#fff8f4"/>
<rect x="229.66" y="247.88" width="11.13" height="11.13" fill="#fff6f1"/>
<rect x="240.79" y="247.88" width="11.13" height="11.13" fill="#fff9f7"/>
<rect x="251.92" y="247.88" width="11.13" height="11.13" fill="#fff6f1"/>
<rect x="263.05" y="247.88" width="11.13" height="11.13" fill="#fff7f3"/>
<rect x="274.18" y="247.88" width="11.13" height="11.13" fill="#c7171c"/>
<rect x="285.31" y="247.88" width="11.13" height="11.13" fill="#fff8f4"/>
<rect x="296.44" y="247.88" width="11.13" height="11.13" fill="#fff8f4"/>
<rect x="307.57" y="247.88" width="11.13" height="11.13" fill="#fff9f6"/>
<rect x="207.4" y="259.01" width="11.13" height="11.13" fill="#fff5f1"/>
<rect x="218.53" y="259.01" width="11.13" height="11.13" fill="#fff8f5"/>
<rect x="229.66" y="259.01" width="11.13" height="11.13" fill="#fff6f2"/>
<rect x="240.79" y="259.01" width="11.13" height="11.13" fill="#fff8f4"/>
<rect x="251.92" y="259.01" width="11.13" height="11.13" fill="#fff4ee"/>
<rect x="263.05" y="259.01" width="11.13" height="11.13" fill="#fff7f3"/>
<rect x="274.18" y="259.01" width="11.13" height="11.13" fill="#fff9f6"/>
<rect x="285.31" y="259.01" width="11.13" height="11.13" fill="#c8171c"/>
<rect x="296.44" y="259.01" width="11.13" height="11.13" fill="#fff8f4"/>
<rect x="307.57" y="259.01" width="11.13" height="11.13" fill="#fff3ed"/>
<rect x="207.4" y="270.14" width="11.13" height="11.13" fill="#fff9f5"/>
<rect x="218.53" y="270.14" width="11.13" height="11.13" fill="#fff6f1"/>
<rect x="229.66" y="270.14" width="11.13" height="11.13" fill="#fff3ee"/>
<rect x="240.79" y="270.14" width="11.13" height="11.13" fill="#feeee7"/>
<rect x="251.92" y="270.14" width="11.13" height="11.13" fill="#fff6f2"/>
<rect x="263.05" y="270.14" width="11.13" height="11.13" fill="#fff1eb"/>
<rect x="274.18" y="270.14" width="11.13" height="11.13" fill="#fff9f5"/>
<rect x="285.31" y="270.14" width="11.13" height="11.13" fill="#fff8f4"/>
<rect x="296.44" y="270.14" width="11.13" height="11.13" fill="#e73329"/>
<rect x="307.57" y="270.14" width="11.13" height="11.13" fill="#fff2ec"/>
<rect x="207.4" y="281.27" width="11.13" height="11.13" fill="#fff5f0"/>
<rect x="218.53" y="281.27" width="11.13" height="11.13" fill="#fff9f6"/>
<rect x="229.66" y="281.27" width="11.13" height="11.13" fill="#fff9f5"/>
<rect x="240.79" y="281.27" width="11.13" height="11.13" fill="#fff9f5"/>
<rect x="251.92" y="281.27" width="11.13" height="11.13" fill="#fee9df"/>
<rect x="263.05" y="281.27" width="11.13" height="11.13" fill="#fff5f1"/>
<rect x="274.18" y="281.27" width="11.13" height="11.13" fill="#fff9f5"/>
<rect x="285.31" y="281.27" width="11.13" height="11.13" fill="#fff1eb"/>
<rect x="296.44" y="281.27" width="11.13" height="11.13" fill="#fff3ed"/>
<rect x="307.57" y="281.27" width="11.13" height="11.13" fill="#f03e2e"/>
<path d="M207.4 181.1V292.4M207.4 181.1H318.7M218.53 181.1V292.4M207.4 192.23H318.7M229.66 181.1V292.4M207.4 203.36H318.7M240.79 181.1V292.4M207.4 214.49H318.7M251.92 181.1V292.4M207.4 225.62H318.7M263.05 181.1V292.4M207.4 236.75H318.7M274.18 181.1V292.4M207.4 247.88H318.7M285.31 181.1V292.4M207.4 259.01H318.7M296.44 181.1V292.4M207.4 270.14H318.7M307.57 181.1V292.4M207.4 281.27H318.7M318.7 181.1V292.4M207.4 292.4H318.7" stroke="#111" stroke-width="1.2" fill="none"/>
<text x="212.97" y="188.81" font-size="5.4" text-anchor="middle" fill="#ffffff" textLength="9.2" lengthAdjust="spacingAndGlyphs" stroke="#ffffff" stroke-width="0.12">1067</text>
<text x="224.09" y="188.81" font-size="5.4" text-anchor="middle" fill="#222" stroke="#222" stroke-width="0.12">0</text>
<text x="235.22" y="188.81" font-size="5.4" text-anchor="middle" fill="#222" stroke="#222" stroke-width="0.12">20</text>
<text x="246.36" y="188.81" font-size="5.4" text-anchor="middle" fill="#222" stroke="#222" stroke-width="0.12">16</text>
<text x="257.49" y="188.81" font-size="5.4" text-anchor="middle" fill="#222" stroke="#222" stroke-width="0.12">9</text>
<text x="268.62" y="188.81" font-size="5.4" text-anchor="middle" fill="#222" stroke="#222" stroke-width="0.12">19</text>
<text x="279.75" y="188.81" font-size="5.4" text-anchor="middle" fill="#222" stroke="#222" stroke-width="0.12">17</text>
<text x="290.88" y="188.81" font-size="5.4" text-anchor="middle" fill="#222" stroke="#222" stroke-width="0.12">23</text>
<text x="302" y="188.81" font-size="5.4" text-anchor="middle" fill="#222" stroke="#222" stroke-width="0.12">26</text>
<text x="313.13" y="188.81" font-size="5.4" text-anchor="middle" fill="#222" stroke="#222" stroke-width="0.12">4</text>
<text x="212.97" y="199.94" font-size="5.4" text-anchor="middle" fill="#222" stroke="#222" stroke-width="0.12">0</text>
<text x="224.09" y="199.94" font-size="5.4" text-anchor="middle" fill="#ffffff" textLength="9.2" lengthAdjust="spacingAndGlyphs" stroke="#ffffff" stroke-width="0.12">1246</text>
<text x="235.22" y="199.94" font-size="5.4" text-anchor="middle" fill="#222" stroke="#222" stroke-width="0.12">17</text>
<text x="246.36" y="199.94" font-size="5.4" text-anchor="middle" fill="#222" stroke="#222" stroke-width="0.12">4</text>
<text x="257.49" y="199.94" font-size="5.4" text-anchor="middle" fill="#222" stroke="#222" stroke-width="0.12">1</text>
<text x="268.62" y="199.94" font-size="5.4" text-anchor="middle" fill="#222" stroke="#222" stroke-width="0.12">2</text>
<text x="279.75" y="199.94" font-size="5.4" text-anchor="middle" fill="#222" stroke="#222" stroke-width="0.12">2</text>
<text x="290.88" y="199.94" font-size="5.4" text-anchor="middle" fill="#222" stroke="#222" stroke-width="0.12">2</text>
<text x="302" y="199.94" font-size="5.4" text-anchor="middle" fill="#222" stroke="#222" stroke-width="0.12">37</text>
<text x="313.13" y="199.94" font-size="5.4" text-anchor="middle" fill="#222" stroke="#222" stroke-width="0.12">4</text>
<text x="212.97" y="211.07" font-size="5.4" text-anchor="middle" fill="#222" stroke="#222" stroke-width="0.12">41</text>
<text x="224.09" y="211.07" font-size="5.4" text-anchor="middle" fill="#222" stroke="#222" stroke-width="0.12">39</text>
<text x="235.22" y="211.07" font-size="5.4" text-anchor="middle" fill="#ffffff" stroke="#ffffff" stroke-width="0.12">813</text>
<text x="246.36" y="211.07" font-size="5.4" text-anchor="middle" fill="#222" stroke="#222" stroke-width="0.12">63</text>
<text x="257.49" y="211.07" font-size="5.4" text-anchor="middle" fill="#222" stroke="#222" stroke-width="0.12">19</text>
<text x="268.62" y="211.07" font-size="5.4" text-anchor="middle" fill="#222" stroke="#222" stroke-width="0.12">19</text>
<text x="279.75" y="211.07" font-size="5.4" text-anchor="middle" fill="#222" stroke="#222" stroke-width="0.12">93</text>
<text x="290.88" y="211.07" font-size="5.4" text-anchor="middle" fill="#222" stroke="#222" stroke-width="0.12">37</text>
<text x="302" y="211.07" font-size="5.4" text-anchor="middle" fill="#222" stroke="#222" stroke-width="0.12">63</text>
<text x="313.13" y="211.07" font-size="5.4" text-anchor="middle" fill="#222" stroke="#222" stroke-width="0.12">29</text>
<text x="212.97" y="222.2" font-size="5.4" text-anchor="middle" fill="#222" stroke="#222" stroke-width="0.12">13</text>
<text x="224.09" y="222.2" font-size="5.4" text-anchor="middle" fill="#222" stroke="#222" stroke-width="0.12">12</text>
<text x="235.22" y="222.2" font-size="5.4" text-anchor="middle" fill="#222" stroke="#222" stroke-width="0.12">54</text>
<text x="246.36" y="222.2" font-size="5.4" text-anchor="middle" fill="#ffffff" stroke="#ffffff" stroke-width="0.12">858</text>
<text x="257.49" y="222.2" font-size="5.4" text-anchor="middle" fill="#222" stroke="#222" stroke-width="0.12">3</text>
<text x="268.62" y="222.2" font-size="5.4" text-anchor="middle" fill="#222" stroke="#222" stroke-width="0.12">108</text>
<text x="279.75" y="222.2" font-size="5.4" text-anchor="middle" fill="#222" stroke="#222" stroke-width="0.12">19</text>
<text x="290.88" y="222.2" font-size="5.4" text-anchor="middle" fill="#222" stroke="#222" stroke-width="0.12">20</text>
<text x="302" y="222.2" font-size="5.4" text-anchor="middle" fill="#222" stroke="#222" stroke-width="0.12">95</text>
<text x="313.13" y="222.2" font-size="5.4" text-anchor="middle" fill="#222" stroke="#222" stroke-width="0.12">10</text>
<text x="212.97" y="233.33" font-size="5.4" text-anchor="middle" fill="#222" stroke="#222" stroke-width="0.12">6</text>
<text x="224.09" y="233.33" font-size="5.4" text-anchor="middle" fill="#222" stroke="#222" stroke-width="0.12">10</text>
<text x="235.22" y="233.33" font-size="5.4" text-anchor="middle" fill="#222" stroke="#222" stroke-width="0.12">10</text>
<text x="246.36" y="233.33" font-size="5.4" text-anchor="middle" fill="#222" stroke="#222" stroke-width="0.12">2</text>
<text x="257.49" y="233.33" font-size="5.4" text-anchor="middle" fill="#ffffff" stroke="#ffffff" stroke-width="0.12">921</text>
<text x="268.62" y="233.33" font-size="5.4" text-anchor="middle" fill="#222" stroke="#222" stroke-width="0.12">19</text>
<text x="279.75" y="233.33" font-size="5.4" text-anchor="middle" fill="#222" stroke="#222" stroke-width="0.12">21</text>
<text x="290.88" y="233.33" font-size="5.4" text-anchor="middle" fill="#222" stroke="#222" stroke-width="0.12">14</text>
<text x="302" y="233.33" font-size="5.4" text-anchor="middle" fill="#222" stroke="#222" stroke-width="0.12">23</text>
<text x="313.13" y="233.33" font-size="5.4" text-anchor="middle" fill="#222" stroke="#222" stroke-width="0.12">157</text>
<text x="212.97" y="244.46" font-size="5.4" text-anchor="middle" fill="#222" stroke="#222" stroke-width="0.12">13</text>
<text x="224.09" y="244.46" font-size="5.4" text-anchor="middle" fill="#222" stroke="#222" stroke-width="0.12">35</text>
<text x="235.22" y="244.46" font-size="5.4" text-anchor="middle" fill="#222" stroke="#222" stroke-width="0.12">46</text>
<text x="246.36" y="244.46" font-size="5.4" text-anchor="middle" fill="#222" stroke="#222" stroke-width="0.12">233</text>
<text x="257.49" y="244.46" font-size="5.4" text-anchor="middle" fill="#222" stroke="#222" stroke-width="0.12">71</text>
<text x="268.62" y="244.46" font-size="5.4" text-anchor="middle" fill="#222" stroke="#222" stroke-width="0.12">477</text>
<text x="279.75" y="244.46" font-size="5.4" text-anchor="middle" fill="#222" stroke="#222" stroke-width="0.12">35</text>
<text x="290.88" y="244.46" font-size="5.4" text-anchor="middle" fill="#222" stroke="#222" stroke-width="0.12">36</text>
<text x="302" y="244.46" font-size="5.4" text-anchor="middle" fill="#222" stroke="#222" stroke-width="0.12">85</text>
<text x="313.13" y="244.46" font-size="5.4" text-anchor="middle" fill="#222" stroke="#222" stroke-width="0.12">58</text>
<text x="212.97" y="255.59" font-size="5.4" text-anchor="middle" fill="#222" stroke="#222" stroke-width="0.12">27</text>
<text x="224.09" y="255.59" font-size="5.4" text-anchor="middle" fill="#222" stroke="#222" stroke-width="0.12">19</text>
<text x="235.22" y="255.59" font-size="5.4" text-anchor="middle" fill="#222" stroke="#222" stroke-width="0.12">33</text>
<text x="246.36" y="255.59" font-size="5.4" text-anchor="middle" fill="#222" stroke="#222" stroke-width="0.12">2</text>
<text x="257.49" y="255.59" font-size="5.4" text-anchor="middle" fill="#222" stroke="#222" stroke-width="0.12">33</text>
<text x="268.62" y="255.59" font-size="5.4" text-anchor="middle" fill="#222" stroke="#222" stroke-width="0.12">23</text>
<text x="279.75" y="255.59" font-size="5.4" text-anchor="middle" fill="#ffffff" stroke="#ffffff" stroke-width="0.12">999</text>
<text x="290.88" y="255.59" font-size="5.4" text-anchor="middle" fill="#222" stroke="#222" stroke-width="0.12">17</text>
<text x="302" y="255.59" font-size="5.4" text-anchor="middle" fill="#222" stroke="#222" stroke-width="0.12">19</text>
<text x="313.13" y="255.59" font-size="5.4" text-anchor="middle" fill="#222" stroke="#222" stroke-width="0.12">3</text>
<text x="212.97" y="266.72" font-size="5.4" text-anchor="middle" fill="#222" stroke="#222" stroke-width="0.12">38</text>
<text x="224.09" y="266.72" font-size="5.4" text-anchor="middle" fill="#222" stroke="#222" stroke-width="0.12">12</text>
<text x="235.22" y="266.72" font-size="5.4" text-anchor="middle" fill="#222" stroke="#222" stroke-width="0.12">30</text>
<text x="246.36" y="266.72" font-size="5.4" text-anchor="middle" fill="#222" stroke="#222" stroke-width="0.12">15</text>
<text x="257.49" y="266.72" font-size="5.4" text-anchor="middle" fill="#222" stroke="#222" stroke-width="0.12">50</text>
<text x="268.62" y="266.72" font-size="5.4" text-anchor="middle" fill="#222" stroke="#222" stroke-width="0.12">23</text>
<text x="279.75" y="266.72" font-size="5.4" text-anchor="middle" fill="#222" stroke="#222" stroke-width="0.12">5</text>
<text x="290.88" y="266.72" font-size="5.4" text-anchor="middle" fill="#ffffff" stroke="#ffffff" stroke-width="0.12">994</text>
<text x="302" y="266.72" font-size="5.4" text-anchor="middle" fill="#222" stroke="#222" stroke-width="0.12">18</text>
<text x="313.13" y="266.72" font-size="5.4" text-anchor="middle" fill="#222" stroke="#222" stroke-width="0.12">54</text>
<text x="212.97" y="277.85" font-size="5.4" text-anchor="middle" fill="#222" stroke="#222" stroke-width="0.12">11</text>
<text x="224.09" y="277.85" font-size="5.4" text-anchor="middle" fill="#222" stroke="#222" stroke-width="0.12">34</text>
<text x="235.22" y="277.85" font-size="5.4" text-anchor="middle" fill="#222" stroke="#222" stroke-width="0.12">51</text>
<text x="246.36" y="277.85" font-size="5.4" text-anchor="middle" fill="#222" stroke="#222" stroke-width="0.12">84</text>
<text x="257.49" y="277.85" font-size="5.4" text-anchor="middle" fill="#222" stroke="#222" stroke-width="0.12">30</text>
<text x="268.62" y="277.85" font-size="5.4" text-anchor="middle" fill="#222" stroke="#222" stroke-width="0.12">67</text>
<text x="279.75" y="277.85" font-size="5.4" text-anchor="middle" fill="#222" stroke="#222" stroke-width="0.12">9</text>
<text x="290.88" y="277.85" font-size="5.4" text-anchor="middle" fill="#222" stroke="#222" stroke-width="0.12">16</text>
<text x="302" y="277.85" font-size="5.4" text-anchor="middle" fill="#ffffff" stroke="#ffffff" stroke-width="0.12">854</text>
<text x="313.13" y="277.85" font-size="5.4" text-anchor="middle" fill="#222" stroke="#222" stroke-width="0.12">59</text>
<text x="212.97" y="288.98" font-size="5.4" text-anchor="middle" fill="#222" stroke="#222" stroke-width="0.12">40</text>
<text x="224.09" y="288.98" font-size="5.4" text-anchor="middle" fill="#222" stroke="#222" stroke-width="0.12">3</text>
<text x="235.22" y="288.98" font-size="5.4" text-anchor="middle" fill="#222" stroke="#222" stroke-width="0.12">11</text>
<text x="246.36" y="288.98" font-size="5.4" text-anchor="middle" fill="#222" stroke="#222" stroke-width="0.12">11</text>
<text x="257.49" y="288.98" font-size="5.4" text-anchor="middle" fill="#222" stroke="#222" stroke-width="0.12">115</text>
<text x="268.62" y="288.98" font-size="5.4" text-anchor="middle" fill="#222" stroke="#222" stroke-width="0.12">37</text>
<text x="279.75" y="288.98" font-size="5.4" text-anchor="middle" fill="#222" stroke="#222" stroke-width="0.12">9</text>
<text x="290.88" y="288.98" font-size="5.4" text-anchor="middle" fill="#222" stroke="#222" stroke-width="0.12">68</text>
<text x="302" y="288.98" font-size="5.4" text-anchor="middle" fill="#222" stroke="#222" stroke-width="0.12">55</text>
<text x="313.13" y="288.98" font-size="5.4" text-anchor="middle" fill="#ffffff" stroke="#ffffff" stroke-width="0.12">808</text>
<text x="204.4" y="188.54" font-size="5.2" text-anchor="middle" fill="#333" stroke="#333" stroke-width="0.1">0</text>
<text x="212.97" y="299.17" font-size="5.2" text-anchor="middle" fill="#333" stroke="#333" stroke-width="0.1">0</text>
<text x="204.4" y="199.67" font-size="5.2" text-anchor="middle" fill="#333" stroke="#333" stroke-width="0.1">1</text>
<text x="224.09" y="299.17" font-size="5.2" text-anchor="middle" fill="#333" stroke="#333" stroke-width="0.1">1</text>
<text x="204.4" y="210.8" font-size="5.2" text-anchor="middle" fill="#333" stroke="#333" stroke-width="0.1">2</text>
<text x="235.22" y="299.17" font-size="5.2" text-anchor="middle" fill="#333" stroke="#333" stroke-width="0.1">2</text>
<text x="204.4" y="221.93" font-size="5.2" text-anchor="middle" fill="#333" stroke="#333" stroke-width="0.1">3</text>
<text x="246.36" y="299.17" font-size="5.2" text-anchor="middle" fill="#333" stroke="#333" stroke-width="0.1">3</text>
<text x="204.4" y="233.06" font-size="5.2" text-anchor="middle" fill="#333" stroke="#333" stroke-width="0.1">4</text>
<text x="257.49" y="299.17" font-size="5.2" text-anchor="middle" fill="#333" stroke="#333" stroke-width="0.1">4</text>
<text x="204.4" y="244.19" font-size="5.2" text-anchor="middle" fill="#333" stroke="#333" stroke-width="0.1">5</text>
<text x="268.62" y="299.17" font-size="5.2" text-anchor="middle" fill="#333" stroke="#333" stroke-width="0.1">5</text>
<text x="204.4" y="255.32" font-size="5.2" text-anchor="middle" fill="#333" stroke="#333" stroke-width="0.1">6</text>
<text x="279.75" y="299.17" font-size="5.2" text-anchor="middle" fill="#333" stroke="#333" stroke-width="0.1">6</text>
<text x="204.4" y="266.45" font-size="5.2" text-anchor="middle" fill="#333" stroke="#333" stroke-width="0.1">7</text>
<text x="290.88" y="299.17" font-size="5.2" text-anchor="middle" fill="#333" stroke="#333" stroke-width="0.1">7</text>
<text x="204.4" y="277.58" font-size="5.2" text-anchor="middle" fill="#333" stroke="#333" stroke-width="0.1">8</text>
<text x="302" y="299.17" font-size="5.2" text-anchor="middle" fill="#333" stroke="#333" stroke-width="0.1">8</text>
<text x="204.4" y="288.71" font-size="5.2" text-anchor="middle" fill="#333" stroke="#333" stroke-width="0.1">9</text>
<text x="313.13" y="299.17" font-size="5.2" text-anchor="middle" fill="#333" stroke="#333" stroke-width="0.1">9</text>
<text x="262.55" y="177.8" font-size="7.6" text-anchor="middle" fill="#111" stroke="#111" stroke-width="0.15">Accuracy: 75.4%</text>
<text transform="translate(199.7,236.75) rotate(-90)" font-size="7.6" text-anchor="middle" fill="#333" stroke="#333" stroke-width="0.15">True Label</text>
<text x="262.75" y="309" font-size="7.6" text-anchor="middle" fill="#333" stroke="#333" stroke-width="0.15">Predicted Label</text>
<defs><linearGradient id="gd" x1="0" y1="0" x2="0" y2="1"><stop offset="0" stop-color="#67000d"/><stop offset="0.12" stop-color="#a50f15"/><stop offset="0.25" stop-color="#cb181d"/><stop offset="0.38" stop-color="#ef3b2c"/><stop offset="0.5" stop-color="#fb6a4a"/><stop offset="0.62" stop-color="#fc9272"/><stop offset="0.75" stop-color="#fcbba1"/><stop offset="0.88" stop-color="#fee0d2"/><stop offset="1" stop-color="#fff5f0"/></linearGradient></defs>
<rect x="326.3" y="181.5" width="10.4" height="111" fill="url(#gd)" stroke="#222" stroke-width="1"/>
<line x1="335.4" y1="292.5" x2="336.7" y2="292.5" stroke="#222" stroke-width="0.7"/>
<text x="339" y="294.23" font-size="4.8" text-anchor="start" fill="#333" stroke="#333" stroke-width="0.1">0</text>
<line x1="335.4" y1="267.08" x2="336.7" y2="267.08" stroke="#222" stroke-width="0.7"/>
<text x="339" y="268.81" font-size="4.8" text-anchor="start" fill="#333" stroke="#333" stroke-width="0.1">300</text>
<line x1="335.4" y1="241.66" x2="336.7" y2="241.66" stroke="#222" stroke-width="0.7"/>
<text x="339" y="243.39" font-size="4.8" text-anchor="start" fill="#333" stroke="#333" stroke-width="0.1">600</text>
<line x1="335.4" y1="216.24" x2="336.7" y2="216.24" stroke="#222" stroke-width="0.7"/>
<text x="339" y="217.97" font-size="4.8" text-anchor="start" fill="#333" stroke="#333" stroke-width="0.1">900</text>
<line x1="335.4" y1="190.82" x2="336.7" y2="190.82" stroke="#222" stroke-width="0.7"/>
<text x="339" y="192.55" font-size="4.8" text-anchor="start" fill="#333" stroke="#333" stroke-width="0.1">1200</text>
<path d="M384.4 184.4 V291.9 H518.2" stroke="#262626" stroke-width="1" fill="none"/>
<line x1="384.4" y1="291.9" x2="385.7" y2="291.9" stroke="#262626" stroke-width="0.8"/>
<text x="382.6" y="294.42" font-size="7" text-anchor="end" fill="#262626" stroke="#262626" stroke-width="0.22">0</text>
<line x1="384.4" y1="270.78" x2="385.7" y2="270.78" stroke="#262626" stroke-width="0.8"/>
<text x="382.6" y="273.3" font-size="7" text-anchor="end" fill="#262626" stroke="#262626" stroke-width="0.22">20</text>
<line x1="384.4" y1="249.66" x2="385.7" y2="249.66" stroke="#262626" stroke-width="0.8"/>
<text x="382.6" y="252.18" font-size="7" text-anchor="end" fill="#262626" stroke="#262626" stroke-width="0.22">40</text>
<line x1="384.4" y1="228.54" x2="385.7" y2="228.54" stroke="#262626" stroke-width="0.8"/>
<text x="382.6" y="231.06" font-size="7" text-anchor="end" fill="#262626" stroke="#262626" stroke-width="0.22">60</text>
<line x1="384.4" y1="207.42" x2="385.7" y2="207.42" stroke="#262626" stroke-width="0.8"/>
<text x="382.6" y="209.94" font-size="7" text-anchor="end" fill="#262626" stroke="#262626" stroke-width="0.22">80</text>
<line x1="384.4" y1="186.3" x2="385.7" y2="186.3" stroke="#262626" stroke-width="0.8"/>
<text x="382.6" y="188.82" font-size="7" text-anchor="end" fill="#262626" stroke="#262626" stroke-width="0.22">100</text>
<line x1="390.8" y1="291.9" x2="390.8" y2="290.6" stroke="#262626" stroke-width="0.8"/>
<text x="390.8" y="301.42" font-size="7" text-anchor="middle" fill="#262626" stroke="#262626" stroke-width="0.22">0</text>
<line x1="415.68" y1="291.9" x2="415.68" y2="290.6" stroke="#262626" stroke-width="0.8"/>
<text x="415.68" y="301.42" font-size="7" text-anchor="middle" fill="#262626" stroke="#262626" stroke-width="0.22">10</text>
<line x1="440.56" y1="291.9" x2="440.56" y2="290.6" stroke="#262626" stroke-width="0.8"/>
<text x="440.56" y="301.42" font-size="7" text-anchor="middle" fill="#262626" stroke="#262626" stroke-width="0.22">20</text>
<line x1="465.44" y1="291.9" x2="465.44" y2="290.6" stroke="#262626" stroke-width="0.8"/>
<text x="465.44" y="301.42" font-size="7" text-anchor="middle" fill="#262626" stroke="#262626" stroke-width="0.22">30</text>
<line x1="490.32" y1="291.9" x2="490.32" y2="290.6" stroke="#262626" stroke-width="0.8"/>
<text x="490.32" y="301.42" font-size="7" text-anchor="middle" fill="#262626" stroke="#262626" stroke-width="0.22">40</text>
<line x1="515.2" y1="291.9" x2="515.2" y2="290.6" stroke="#262626" stroke-width="0.8"/>
<text x="515.2" y="301.42" font-size="7" text-anchor="middle" fill="#262626" stroke="#262626" stroke-width="0.22">50</text>
<text x="450.7" y="310.1" font-size="7.2" text-anchor="middle" fill="#262626" stroke="#262626" stroke-width="0.22">Epochs</text>
<text transform="translate(367.4,238.6) rotate(-90)" font-size="7.4" text-anchor="middle" fill="#262626" stroke="#262626" stroke-width="0.15">Accuracy (%)</text>
<path d="M390.8 281.6 L393.41 223.2 L394.71 217.1 L397.39 215.8 L406.23 215.5 L415.68 215.2 L426.38 215.5 L428.87 216.2 L431.11 214.4 L433.1 212.8 L471.66 213.1 L472.9 212.2 L515.2 212.4" stroke="#cc7442" stroke-width="1.15" fill="none" stroke-linejoin="round"/>
<line x1="22.2" y1="319.8" x2="510.7" y2="319.8" stroke="#333" stroke-width="1.5" stroke-dasharray="4.5 2.885"/>
<text x="264.1" y="339" font-size="11.7" text-anchor="middle" fill="#000" stroke="#000" stroke-width="0.25">4-class MNIST</text>
<text transform="translate(8.4,411.8) rotate(-90)" font-size="11.7" text-anchor="middle" fill="#111" stroke="#111" stroke-width="0.2">Uniform Grid Sampling</text>
<circle cx="111.4" cy="353.85" r="3.4" fill="#e8000b" stroke="#3a0000" stroke-width="1.0"/>
<text x="118.6" y="356.9" font-size="8.3" text-anchor="start" fill="#1a1a1a" stroke="#1a1a1a" stroke-width="0.22">Sample points</text>
<rect x="56.5" y="362.2" width="110" height="110.3" fill="none" stroke="#222" stroke-width="1.05"/>
<line x1="56.5" y1="416.85" x2="58.1" y2="416.85" stroke="#222" stroke-width="1"/>
<line x1="112.2" y1="472.5" x2="112.2" y2="470.9" stroke="#222" stroke-width="1"/>
<text x="55.6" y="366.7" font-size="8.4" text-anchor="end" fill="#262626" stroke="#262626" stroke-width="0.22">12 cm</text>
<text x="54.5" y="419.55" font-size="8.4" text-anchor="end" fill="#262626" stroke="#262626" stroke-width="0.22">0 cm</text>
<text x="54.5" y="473.1" font-size="8.4" text-anchor="end" fill="#262626" stroke="#262626" stroke-width="0.22">-12 cm</text>
<text x="63.3" y="483.9" font-size="8.4" text-anchor="middle" fill="#262626" stroke="#262626" stroke-width="0.22">-12 cm</text>
<text x="113.8" y="483.9" font-size="8.4" text-anchor="middle" fill="#262626" stroke="#262626" stroke-width="0.22">0 cm</text>
<text x="164.6" y="483.9" font-size="8.4" text-anchor="middle" fill="#262626" stroke="#262626" stroke-width="0.22">12 cm</text>
<path d="M60.6 460.6 V469.1 M59.95 469.1 H69.6" stroke="#000" stroke-width="1.3" fill="none"/>
<path d="M60.6 458.1 l-2.2 3.6 h4.4 z" fill="#000"/>
<path d="M72 469.1 l-3.6 -2.2 v4.4 z" fill="#000"/>
<text x="63.6" y="462.9" font-size="7" text-anchor="start" font-style="italic" fill="#000" stroke="#000" stroke-width="0.3">y</text>
<text x="73" y="471.7" font-size="7" text-anchor="start" font-style="italic" fill="#000" stroke="#000" stroke-width="0.3">x</text>
<circle cx="98.6" cy="378.6" r="3.6" fill="#ec0a10" stroke="#780000" stroke-width="0.75"/>
<text x="103.2" y="380.5" font-size="8.6" text-anchor="start" font-weight="bold" fill="#000" stroke="#000" stroke-width="0.15">1</text>
<circle cx="124.2" cy="378.6" r="3.6" fill="#ec0a10" stroke="#780000" stroke-width="0.75"/>
<text x="128.8" y="380.5" font-size="8.6" text-anchor="start" font-weight="bold" fill="#000" stroke="#000" stroke-width="0.15">2</text>
<circle cx="98.6" cy="404.5" r="3.6" fill="#ec0a10" stroke="#780000" stroke-width="0.75"/>
<text x="103.2" y="406.4" font-size="8.6" text-anchor="start" font-weight="bold" fill="#000" stroke="#000" stroke-width="0.15">3</text>
<circle cx="124.2" cy="404.5" r="3.6" fill="#ec0a10" stroke="#780000" stroke-width="0.75"/>
<text x="128.8" y="406.4" font-size="8.6" text-anchor="start" font-weight="bold" fill="#000" stroke="#000" stroke-width="0.15">4</text>
<circle cx="98.6" cy="430.2" r="3.6" fill="#ec0a10" stroke="#780000" stroke-width="0.75"/>
<text x="103.2" y="432.1" font-size="8.6" text-anchor="start" font-weight="bold" fill="#000" stroke="#000" stroke-width="0.15">5</text>
<circle cx="124.2" cy="430.2" r="3.6" fill="#ec0a10" stroke="#780000" stroke-width="0.75"/>
<text x="128.8" y="432.1" font-size="8.6" text-anchor="start" font-weight="bold" fill="#000" stroke="#000" stroke-width="0.15">6</text>
<circle cx="98.6" cy="456" r="3.6" fill="#ec0a10" stroke="#780000" stroke-width="0.75"/>
<text x="103.2" y="457.9" font-size="8.6" text-anchor="start" font-weight="bold" fill="#000" stroke="#000" stroke-width="0.15">7</text>
<circle cx="124.2" cy="456" r="3.6" fill="#ec0a10" stroke="#780000" stroke-width="0.75"/>
<text x="128.8" y="457.9" font-size="8.6" text-anchor="start" font-weight="bold" fill="#000" stroke="#000" stroke-width="0.15">8</text>
<rect x="207.3" y="361.2" width="27.9" height="27.9" fill="#c3161b"/>
<rect x="235.2" y="361.2" width="27.9" height="27.9" fill="#fff1eb"/>
<rect x="263.1" y="361.2" width="27.9" height="27.9" fill="#fff0e9"/>
<rect x="291" y="361.2" width="27.9" height="27.9" fill="#ffeee6"/>
<rect x="207.3" y="389.1" width="27.9" height="27.9" fill="#fff2ec"/>
<rect x="235.2" y="389.1" width="27.9" height="27.9" fill="#7f0610"/>
<rect x="263.1" y="389.1" width="27.9" height="27.9" fill="#fff1eb"/>
<rect x="291" y="389.1" width="27.9" height="27.9" fill="#fff0e9"/>
<rect x="207.3" y="417" width="27.9" height="27.9" fill="#fff0e9"/>
<rect x="235.2" y="417" width="27.9" height="27.9" fill="#ffede5"/>
<rect x="263.1" y="417" width="27.9" height="27.9" fill="#c4161c"/>
<rect x="291" y="417" width="27.9" height="27.9" fill="#ffefe8"/>
<rect x="207.3" y="444.9" width="27.9" height="27.9" fill="#ffeee6"/>
<rect x="235.2" y="444.9" width="27.9" height="27.9" fill="#ffebe1"/>
<rect x="263.1" y="444.9" width="27.9" height="27.9" fill="#ffefe7"/>
<rect x="291" y="444.9" width="27.9" height="27.9" fill="#ca181d"/>
<path d="M207.3 361.2V472.8M207.3 361.2H318.9M235.2 361.2V472.8M207.3 389.1H318.9M263.1 361.2V472.8M207.3 417H318.9M291 361.2V472.8M207.3 444.9H318.9M318.9 361.2V472.8M207.3 472.8H318.9" stroke="#111" stroke-width="1.35" fill="none"/>
<text x="221.25" y="378.66" font-size="7.8" text-anchor="middle" fill="#ffffff" stroke="#ffffff" stroke-width="0.25">1019</text>
<text x="249.15" y="378.66" font-size="7.8" text-anchor="middle" fill="#222" stroke="#222" stroke-width="0.25">28</text>
<text x="277.05" y="378.66" font-size="7.8" text-anchor="middle" fill="#222" stroke="#222" stroke-width="0.25">37</text>
<text x="304.95" y="378.66" font-size="7.8" text-anchor="middle" fill="#222" stroke="#222" stroke-width="0.25">52</text>
<text x="221.25" y="406.56" font-size="7.8" text-anchor="middle" fill="#222" stroke="#222" stroke-width="0.25">23</text>
<text x="249.15" y="406.56" font-size="7.8" text-anchor="middle" fill="#ffffff" stroke="#ffffff" stroke-width="0.25">1247</text>
<text x="277.05" y="406.56" font-size="7.8" text-anchor="middle" fill="#222" stroke="#222" stroke-width="0.25">30</text>
<text x="304.95" y="406.56" font-size="7.8" text-anchor="middle" fill="#222" stroke="#222" stroke-width="0.25">37</text>
<text x="221.25" y="434.46" font-size="7.8" text-anchor="middle" fill="#222" stroke="#222" stroke-width="0.25">39</text>
<text x="249.15" y="434.46" font-size="7.8" text-anchor="middle" fill="#222" stroke="#222" stroke-width="0.25">62</text>
<text x="277.05" y="434.46" font-size="7.8" text-anchor="middle" fill="#ffffff" stroke="#ffffff" stroke-width="0.25">1011</text>
<text x="304.95" y="434.46" font-size="7.8" text-anchor="middle" fill="#222" stroke="#222" stroke-width="0.25">44</text>
<text x="221.25" y="462.36" font-size="7.8" text-anchor="middle" fill="#222" stroke="#222" stroke-width="0.25">53</text>
<text x="249.15" y="462.36" font-size="7.8" text-anchor="middle" fill="#222" stroke="#222" stroke-width="0.25">80</text>
<text x="277.05" y="462.36" font-size="7.8" text-anchor="middle" fill="#222" stroke="#222" stroke-width="0.25">48</text>
<text x="304.95" y="462.36" font-size="7.8" text-anchor="middle" fill="#ffffff" stroke="#ffffff" stroke-width="0.25">988</text>
<text x="203.3" y="377.89" font-size="7.6" text-anchor="middle" fill="#333" stroke="#333" stroke-width="0.1">0</text>
<text x="221.25" y="483.14" font-size="7.6" text-anchor="middle" fill="#333" stroke="#333" stroke-width="0.1">0</text>
<text x="203.3" y="405.79" font-size="7.6" text-anchor="middle" fill="#333" stroke="#333" stroke-width="0.1">1</text>
<text x="249.15" y="483.14" font-size="7.6" text-anchor="middle" fill="#333" stroke="#333" stroke-width="0.1">1</text>
<text x="203.3" y="433.69" font-size="7.6" text-anchor="middle" fill="#333" stroke="#333" stroke-width="0.1">2</text>
<text x="277.05" y="483.14" font-size="7.6" text-anchor="middle" fill="#333" stroke="#333" stroke-width="0.1">2</text>
<text x="203.3" y="461.59" font-size="7.6" text-anchor="middle" fill="#333" stroke="#333" stroke-width="0.1">3</text>
<text x="304.95" y="483.14" font-size="7.6" text-anchor="middle" fill="#333" stroke="#333" stroke-width="0.1">3</text>
<text x="262.6" y="357.9" font-size="7.6" text-anchor="middle" fill="#111" stroke="#111" stroke-width="0.15">Accuracy: 88.9%</text>
<text transform="translate(195.7,417) rotate(-90)" font-size="7.6" text-anchor="middle" fill="#333" stroke="#333" stroke-width="0.15">True Label</text>
<text x="262.8" y="492.1" font-size="7.6" text-anchor="middle" fill="#333" stroke="#333" stroke-width="0.15">Predicted Label</text>
<defs><linearGradient id="gi" x1="0" y1="0" x2="0" y2="1"><stop offset="0" stop-color="#67000d"/><stop offset="0.12" stop-color="#a50f15"/><stop offset="0.25" stop-color="#cb181d"/><stop offset="0.38" stop-color="#ef3b2c"/><stop offset="0.5" stop-color="#fb6a4a"/><stop offset="0.62" stop-color="#fc9272"/><stop offset="0.75" stop-color="#fcbba1"/><stop offset="0.88" stop-color="#fee0d2"/><stop offset="1" stop-color="#fff5f0"/></linearGradient></defs>
<rect x="326.5" y="361.9" width="10.5" height="110.5" fill="url(#gi)" stroke="#222" stroke-width="1"/>
<line x1="335.7" y1="472.4" x2="337" y2="472.4" stroke="#222" stroke-width="0.7"/>
<text x="339.3" y="474.88" font-size="6.9" text-anchor="start" fill="#333" stroke="#333" stroke-width="0.1">0</text>
<line x1="335.7" y1="447.09" x2="337" y2="447.09" stroke="#222" stroke-width="0.7"/>
<text x="339.3" y="449.58" font-size="6.9" text-anchor="start" fill="#333" stroke="#333" stroke-width="0.1">300</text>
<line x1="335.7" y1="421.79" x2="337" y2="421.79" stroke="#222" stroke-width="0.7"/>
<text x="339.3" y="424.27" font-size="6.9" text-anchor="start" fill="#333" stroke="#333" stroke-width="0.1">600</text>
<line x1="335.7" y1="396.48" x2="337" y2="396.48" stroke="#222" stroke-width="0.7"/>
<text x="339.3" y="398.97" font-size="6.9" text-anchor="start" fill="#333" stroke="#333" stroke-width="0.1">900</text>
<line x1="335.7" y1="371.18" x2="337" y2="371.18" stroke="#222" stroke-width="0.7"/>
<text x="339.3" y="373.66" font-size="6.9" text-anchor="start" fill="#333" stroke="#333" stroke-width="0.1">1200</text>
<path d="M384.4 364.4 V472.8 H518.2" stroke="#262626" stroke-width="1" fill="none"/>
<line x1="384.4" y1="472.8" x2="385.7" y2="472.8" stroke="#262626" stroke-width="0.8"/>
<text x="382.6" y="475.32" font-size="7" text-anchor="end" fill="#262626" stroke="#262626" stroke-width="0.22">0</text>
<line x1="384.4" y1="451.5" x2="385.7" y2="451.5" stroke="#262626" stroke-width="0.8"/>
<text x="382.6" y="454.02" font-size="7" text-anchor="end" fill="#262626" stroke="#262626" stroke-width="0.22">20</text>
<line x1="384.4" y1="430.2" x2="385.7" y2="430.2" stroke="#262626" stroke-width="0.8"/>
<text x="382.6" y="432.72" font-size="7" text-anchor="end" fill="#262626" stroke="#262626" stroke-width="0.22">40</text>
<line x1="384.4" y1="408.9" x2="385.7" y2="408.9" stroke="#262626" stroke-width="0.8"/>
<text x="382.6" y="411.42" font-size="7" text-anchor="end" fill="#262626" stroke="#262626" stroke-width="0.22">60</text>
<line x1="384.4" y1="387.6" x2="385.7" y2="387.6" stroke="#262626" stroke-width="0.8"/>
<text x="382.6" y="390.12" font-size="7" text-anchor="end" fill="#262626" stroke="#262626" stroke-width="0.22">80</text>
<line x1="384.4" y1="366.3" x2="385.7" y2="366.3" stroke="#262626" stroke-width="0.8"/>
<text x="382.6" y="368.82" font-size="7" text-anchor="end" fill="#262626" stroke="#262626" stroke-width="0.22">100</text>
<line x1="390.8" y1="472.8" x2="390.8" y2="471.5" stroke="#262626" stroke-width="0.8"/>
<text x="390.8" y="482.32" font-size="7" text-anchor="middle" fill="#262626" stroke="#262626" stroke-width="0.22">0</text>
<line x1="415.68" y1="472.8" x2="415.68" y2="471.5" stroke="#262626" stroke-width="0.8"/>
<text x="415.68" y="482.32" font-size="7" text-anchor="middle" fill="#262626" stroke="#262626" stroke-width="0.22">10</text>
<line x1="440.56" y1="472.8" x2="440.56" y2="471.5" stroke="#262626" stroke-width="0.8"/>
<text x="440.56" y="482.32" font-size="7" text-anchor="middle" fill="#262626" stroke="#262626" stroke-width="0.22">20</text>
<line x1="465.44" y1="472.8" x2="465.44" y2="471.5" stroke="#262626" stroke-width="0.8"/>
<text x="465.44" y="482.32" font-size="7" text-anchor="middle" fill="#262626" stroke="#262626" stroke-width="0.22">30</text>
<line x1="490.32" y1="472.8" x2="490.32" y2="471.5" stroke="#262626" stroke-width="0.8"/>
<text x="490.32" y="482.32" font-size="7" text-anchor="middle" fill="#262626" stroke="#262626" stroke-width="0.22">40</text>
<line x1="515.2" y1="472.8" x2="515.2" y2="471.5" stroke="#262626" stroke-width="0.8"/>
<text x="515.2" y="482.32" font-size="7" text-anchor="middle" fill="#262626" stroke="#262626" stroke-width="0.22">50</text>
<text x="450.7" y="491" font-size="7.2" text-anchor="middle" fill="#262626" stroke="#262626" stroke-width="0.22">Epochs</text>
<text transform="translate(367.4,419.05) rotate(-90)" font-size="7.4" text-anchor="middle" fill="#262626" stroke="#262626" stroke-width="0.15">Accuracy (%)</text>
<path d="M390.8 462.6 L392.79 384.2 L394.03 382.8 L399.51 381 L408.96 379.7 L414.93 380.5 L420.41 382.4 L426.38 380.8 L432.35 379.2 L465.44 379.2 L515.2 378.7" stroke="#cc7442" stroke-width="1.15" fill="none" stroke-linejoin="round"/>
<text transform="translate(8.4,568.6) rotate(-90)" font-size="11.95" text-anchor="middle" fill="#111" stroke="#111" stroke-width="0.2">Optimized Sampling</text>
<circle cx="111.4" cy="506.35" r="3.4" fill="#e8000b" stroke="#3a0000" stroke-width="1.0"/>
<text x="118.6" y="509.4" font-size="8.3" text-anchor="start" fill="#1a1a1a" stroke="#1a1a1a" stroke-width="0.22">Sample points</text>
<rect x="56.9" y="514.7" width="110" height="110.3" fill="none" stroke="#222" stroke-width="1.05"/>
<line x1="56.9" y1="569.35" x2="58.5" y2="569.35" stroke="#222" stroke-width="1"/>
<line x1="112.6" y1="625" x2="112.6" y2="623.4" stroke="#222" stroke-width="1"/>
<text x="55.6" y="519.2" font-size="8.4" text-anchor="end" fill="#262626" stroke="#262626" stroke-width="0.22">12 cm</text>
<text x="54.5" y="572.05" font-size="8.4" text-anchor="end" fill="#262626" stroke="#262626" stroke-width="0.22">0 cm</text>
<text x="54.5" y="625.6" font-size="8.4" text-anchor="end" fill="#262626" stroke="#262626" stroke-width="0.22">-12 cm</text>
<text x="63.7" y="636.4" font-size="8.4" text-anchor="middle" fill="#262626" stroke="#262626" stroke-width="0.22">-12 cm</text>
<text x="114.2" y="636.4" font-size="8.4" text-anchor="middle" fill="#262626" stroke="#262626" stroke-width="0.22">0 cm</text>
<text x="165" y="636.4" font-size="8.4" text-anchor="middle" fill="#262626" stroke="#262626" stroke-width="0.22">12 cm</text>
<path d="M61 613.1 V621.6 M60.35 621.6 H70" stroke="#000" stroke-width="1.3" fill="none"/>
<path d="M61 610.6 l-2.2 3.6 h4.4 z" fill="#000"/>
<path d="M72.4 621.6 l-3.6 -2.2 v4.4 z" fill="#000"/>
<text x="64" y="615.4" font-size="7" text-anchor="start" font-style="italic" fill="#000" stroke="#000" stroke-width="0.3">y</text>
<text x="73.4" y="624.2" font-size="7" text-anchor="start" font-style="italic" fill="#000" stroke="#000" stroke-width="0.3">x</text>
<circle cx="95.1" cy="535.1" r="3.6" fill="#ec0a10" stroke="#780000" stroke-width="0.75"/>
<text x="99.7" y="537" font-size="8.6" text-anchor="start" font-weight="bold" fill="#000" stroke="#000" stroke-width="0.15">7</text>
<circle cx="146.9" cy="556.9" r="3.6" fill="#ec0a10" stroke="#780000" stroke-width="0.75"/>
<text x="151.5" y="558.8" font-size="8.6" text-anchor="start" font-weight="bold" fill="#000" stroke="#000" stroke-width="0.15">4</text>
<circle cx="120.9" cy="564.3" r="3.6" fill="#ec0a10" stroke="#780000" stroke-width="0.75"/>
<text x="125.5" y="566.2" font-size="8.6" text-anchor="start" font-weight="bold" fill="#000" stroke="#000" stroke-width="0.15">5</text>
<circle cx="84.1" cy="567.9" r="3.6" fill="#ec0a10" stroke="#780000" stroke-width="0.75"/>
<text x="88.7" y="569.8" font-size="8.6" text-anchor="start" font-weight="bold" fill="#000" stroke="#000" stroke-width="0.15">2</text>
<circle cx="139.5" cy="582.7" r="3.6" fill="#ec0a10" stroke="#780000" stroke-width="0.75"/>
<text x="144.1" y="584.6" font-size="8.6" text-anchor="start" font-weight="bold" fill="#000" stroke="#000" stroke-width="0.15">1</text>
<circle cx="106.1" cy="586.5" r="3.6" fill="#ec0a10" stroke="#780000" stroke-width="0.75"/>
<text x="110.7" y="588.4" font-size="8.6" text-anchor="start" font-weight="bold" fill="#000" stroke="#000" stroke-width="0.15">3</text>
<circle cx="80.3" cy="593.7" r="3.6" fill="#ec0a10" stroke="#780000" stroke-width="0.75"/>
<text x="84.9" y="595.6" font-size="8.6" text-anchor="start" font-weight="bold" fill="#000" stroke="#000" stroke-width="0.15">6</text>
<circle cx="109.9" cy="612.3" r="3.6" fill="#ec0a10" stroke="#780000" stroke-width="0.75"/>
<text x="114.5" y="614.2" font-size="8.6" text-anchor="start" font-weight="bold" fill="#000" stroke="#000" stroke-width="0.15">8</text>
<rect x="207.1" y="514.4" width="27.8" height="27.8" fill="#b21218"/>
<rect x="234.9" y="514.4" width="27.8" height="27.8" fill="#fff5f0"/>
<rect x="262.7" y="514.4" width="27.8" height="27.8" fill="#fff3ee"/>
<rect x="290.5" y="514.4" width="27.8" height="27.8" fill="#fff1ea"/>
<rect x="207.1" y="542.2" width="27.8" height="27.8" fill="#fff5f0"/>
<rect x="234.9" y="542.2" width="27.8" height="27.8" fill="#6b010e"/>
<rect x="262.7" y="542.2" width="27.8" height="27.8" fill="#fff2eb"/>
<rect x="290.5" y="542.2" width="27.8" height="27.8" fill="#fff3ed"/>
<rect x="207.1" y="570" width="27.8" height="27.8" fill="#fff3ed"/>
<rect x="234.9" y="570" width="27.8" height="27.8" fill="#fff2ec"/>
<rect x="262.7" y="570" width="27.8" height="27.8" fill="#b91419"/>
<rect x="290.5" y="570" width="27.8" height="27.8" fill="#ffeee6"/>
<rect x="207.1" y="597.8" width="27.8" height="27.8" fill="#fff1eb"/>
<rect x="234.9" y="597.8" width="27.8" height="27.8" fill="#fff3ed"/>
<rect x="262.7" y="597.8" width="27.8" height="27.8" fill="#ffece4"/>
<rect x="290.5" y="597.8" width="27.8" height="27.8" fill="#ba141a"/>
<path d="M207.1 514.4V625.6M207.1 514.4H318.3M234.9 514.4V625.6M207.1 542.2H318.3M262.7 514.4V625.6M207.1 570H318.3M290.5 514.4V625.6M207.1 597.8H318.3M318.3 514.4V625.6M207.1 625.6H318.3" stroke="#111" stroke-width="1.35" fill="none"/>
<text x="221" y="531.81" font-size="7.8" text-anchor="middle" fill="#ffffff" stroke="#ffffff" stroke-width="0.25">1090</text>
<text x="248.8" y="531.81" font-size="7.8" text-anchor="middle" fill="#222" stroke="#222" stroke-width="0.25">0</text>
<text x="276.6" y="531.81" font-size="7.8" text-anchor="middle" fill="#222" stroke="#222" stroke-width="0.25">12</text>
<text x="304.4" y="531.81" font-size="7.8" text-anchor="middle" fill="#222" stroke="#222" stroke-width="0.25">34</text>
<text x="221" y="559.61" font-size="7.8" text-anchor="middle" fill="#222" stroke="#222" stroke-width="0.25">0</text>
<text x="248.8" y="559.61" font-size="7.8" text-anchor="middle" fill="#ffffff" stroke="#ffffff" stroke-width="0.25">1299</text>
<text x="276.6" y="559.61" font-size="7.8" text-anchor="middle" fill="#222" stroke="#222" stroke-width="0.25">26</text>
<text x="304.4" y="559.61" font-size="7.8" text-anchor="middle" fill="#222" stroke="#222" stroke-width="0.25">14</text>
<text x="221" y="587.41" font-size="7.8" text-anchor="middle" fill="#222" stroke="#222" stroke-width="0.25">18</text>
<text x="248.8" y="587.41" font-size="7.8" text-anchor="middle" fill="#222" stroke="#222" stroke-width="0.25">24</text>
<text x="276.6" y="587.41" font-size="7.8" text-anchor="middle" fill="#ffffff" stroke="#ffffff" stroke-width="0.25">1060</text>
<text x="304.4" y="587.41" font-size="7.8" text-anchor="middle" fill="#222" stroke="#222" stroke-width="0.25">54</text>
<text x="221" y="615.21" font-size="7.8" text-anchor="middle" fill="#222" stroke="#222" stroke-width="0.25">29</text>
<text x="248.8" y="615.21" font-size="7.8" text-anchor="middle" fill="#222" stroke="#222" stroke-width="0.25">17</text>
<text x="276.6" y="615.21" font-size="7.8" text-anchor="middle" fill="#222" stroke="#222" stroke-width="0.25">68</text>
<text x="304.4" y="615.21" font-size="7.8" text-anchor="middle" fill="#ffffff" stroke="#ffffff" stroke-width="0.25">1054</text>
<text x="203.1" y="531.04" font-size="7.6" text-anchor="middle" fill="#333" stroke="#333" stroke-width="0.1">0</text>
<text x="221" y="635.94" font-size="7.6" text-anchor="middle" fill="#333" stroke="#333" stroke-width="0.1">0</text>
<text x="203.1" y="558.84" font-size="7.6" text-anchor="middle" fill="#333" stroke="#333" stroke-width="0.1">1</text>
<text x="248.8" y="635.94" font-size="7.6" text-anchor="middle" fill="#333" stroke="#333" stroke-width="0.1">1</text>
<text x="203.1" y="586.64" font-size="7.6" text-anchor="middle" fill="#333" stroke="#333" stroke-width="0.1">2</text>
<text x="276.6" y="635.94" font-size="7.6" text-anchor="middle" fill="#333" stroke="#333" stroke-width="0.1">2</text>
<text x="203.1" y="614.44" font-size="7.6" text-anchor="middle" fill="#333" stroke="#333" stroke-width="0.1">3</text>
<text x="304.4" y="635.94" font-size="7.6" text-anchor="middle" fill="#333" stroke="#333" stroke-width="0.1">3</text>
<text x="262.2" y="511.1" font-size="7.6" text-anchor="middle" fill="#111" stroke="#111" stroke-width="0.15">Accuracy: 93.8%</text>
<text transform="translate(195.5,570) rotate(-90)" font-size="7.6" text-anchor="middle" fill="#333" stroke="#333" stroke-width="0.15">True Label</text>
<text x="262.4" y="644.9" font-size="7.6" text-anchor="middle" fill="#333" stroke="#333" stroke-width="0.15">Predicted Label</text>
<defs><linearGradient id="gj" x1="0" y1="0" x2="0" y2="1"><stop offset="0" stop-color="#67000d"/><stop offset="0.12" stop-color="#a50f15"/><stop offset="0.25" stop-color="#cb181d"/><stop offset="0.38" stop-color="#ef3b2c"/><stop offset="0.5" stop-color="#fb6a4a"/><stop offset="0.62" stop-color="#fc9272"/><stop offset="0.75" stop-color="#fcbba1"/><stop offset="0.88" stop-color="#fee0d2"/><stop offset="1" stop-color="#fff5f0"/></linearGradient></defs>
<rect x="326.5" y="514.5" width="10.5" height="110.5" fill="url(#gj)" stroke="#222" stroke-width="1"/>
<line x1="335.7" y1="625" x2="337" y2="625" stroke="#222" stroke-width="0.7"/>
<text x="339.3" y="627.48" font-size="6.9" text-anchor="start" fill="#333" stroke="#333" stroke-width="0.1">0</text>
<line x1="335.7" y1="599.69" x2="337" y2="599.69" stroke="#222" stroke-width="0.7"/>
<text x="339.3" y="602.18" font-size="6.9" text-anchor="start" fill="#333" stroke="#333" stroke-width="0.1">300</text>
<line x1="335.7" y1="574.39" x2="337" y2="574.39" stroke="#222" stroke-width="0.7"/>
<text x="339.3" y="576.87" font-size="6.9" text-anchor="start" fill="#333" stroke="#333" stroke-width="0.1">600</text>
<line x1="335.7" y1="549.08" x2="337" y2="549.08" stroke="#222" stroke-width="0.7"/>
<text x="339.3" y="551.57" font-size="6.9" text-anchor="start" fill="#333" stroke="#333" stroke-width="0.1">900</text>
<line x1="335.7" y1="523.78" x2="337" y2="523.78" stroke="#222" stroke-width="0.7"/>
<text x="339.3" y="526.26" font-size="6.9" text-anchor="start" fill="#333" stroke="#333" stroke-width="0.1">1200</text>
<path d="M384.4 516.4 V625.2 H518.2" stroke="#262626" stroke-width="1" fill="none"/>
<line x1="384.4" y1="625.2" x2="385.7" y2="625.2" stroke="#262626" stroke-width="0.8"/>
<text x="382.6" y="627.72" font-size="7" text-anchor="end" fill="#262626" stroke="#262626" stroke-width="0.22">0</text>
<line x1="384.4" y1="603.82" x2="385.7" y2="603.82" stroke="#262626" stroke-width="0.8"/>
<text x="382.6" y="606.34" font-size="7" text-anchor="end" fill="#262626" stroke="#262626" stroke-width="0.22">20</text>
<line x1="384.4" y1="582.44" x2="385.7" y2="582.44" stroke="#262626" stroke-width="0.8"/>
<text x="382.6" y="584.96" font-size="7" text-anchor="end" fill="#262626" stroke="#262626" stroke-width="0.22">40</text>
<line x1="384.4" y1="561.06" x2="385.7" y2="561.06" stroke="#262626" stroke-width="0.8"/>
<text x="382.6" y="563.58" font-size="7" text-anchor="end" fill="#262626" stroke="#262626" stroke-width="0.22">60</text>
<line x1="384.4" y1="539.68" x2="385.7" y2="539.68" stroke="#262626" stroke-width="0.8"/>
<text x="382.6" y="542.2" font-size="7" text-anchor="end" fill="#262626" stroke="#262626" stroke-width="0.22">80</text>
<line x1="384.4" y1="518.3" x2="385.7" y2="518.3" stroke="#262626" stroke-width="0.8"/>
<text x="382.6" y="520.82" font-size="7" text-anchor="end" fill="#262626" stroke="#262626" stroke-width="0.22">100</text>
<line x1="390.8" y1="625.2" x2="390.8" y2="623.9" stroke="#262626" stroke-width="0.8"/>
<text x="390.8" y="634.72" font-size="7" text-anchor="middle" fill="#262626" stroke="#262626" stroke-width="0.22">0</text>
<line x1="415.68" y1="625.2" x2="415.68" y2="623.9" stroke="#262626" stroke-width="0.8"/>
<text x="415.68" y="634.72" font-size="7" text-anchor="middle" fill="#262626" stroke="#262626" stroke-width="0.22">10</text>
<line x1="440.56" y1="625.2" x2="440.56" y2="623.9" stroke="#262626" stroke-width="0.8"/>
<text x="440.56" y="634.72" font-size="7" text-anchor="middle" fill="#262626" stroke="#262626" stroke-width="0.22">20</text>
<line x1="465.44" y1="625.2" x2="465.44" y2="623.9" stroke="#262626" stroke-width="0.8"/>
<text x="465.44" y="634.72" font-size="7" text-anchor="middle" fill="#262626" stroke="#262626" stroke-width="0.22">30</text>
<line x1="490.32" y1="625.2" x2="490.32" y2="623.9" stroke="#262626" stroke-width="0.8"/>
<text x="490.32" y="634.72" font-size="7" text-anchor="middle" fill="#262626" stroke="#262626" stroke-width="0.22">40</text>
<line x1="515.2" y1="625.2" x2="515.2" y2="623.9" stroke="#262626" stroke-width="0.8"/>
<text x="515.2" y="634.72" font-size="7" text-anchor="middle" fill="#262626" stroke="#262626" stroke-width="0.22">50</text>
<text x="450.7" y="643.4" font-size="7.2" text-anchor="middle" fill="#262626" stroke="#262626" stroke-width="0.22">Epochs</text>
<text transform="translate(367.4,571.25) rotate(-90)" font-size="7.4" text-anchor="middle" fill="#262626" stroke="#262626" stroke-width="0.15">Accuracy (%)</text>
<path d="M390.8 614.6 L393.04 528.8 L396.02 532.4 L399.51 531.4 L406.23 530.1 L416.92 529.4 L427.62 528.5 L430.36 527.4 L433.84 525.4 L515.2 525.4" stroke="#cc7442" stroke-width="1.15" fill="none" stroke-linejoin="round"/>
<text x="22" y="30" font-size="11.5" text-anchor="middle" font-weight="bold" fill="#000" stroke="#000" stroke-width="0.15">(a)</text>
<text x="191.95" y="30" font-size="11.5" text-anchor="middle" font-weight="bold" fill="#000" stroke="#000" stroke-width="0.15">(c)</text>
<text x="362" y="30" font-size="11.5" text-anchor="middle" font-weight="bold" fill="#000" stroke="#000" stroke-width="0.15">(e)</text>
<text x="22" y="181.5" font-size="11.5" text-anchor="middle" font-weight="bold" fill="#000" stroke="#000" stroke-width="0.15">(b)</text>
<text x="191.95" y="181.5" font-size="11.5" text-anchor="middle" font-weight="bold" fill="#000" stroke="#000" stroke-width="0.15">(d)</text>
<text x="362" y="181.5" font-size="11.5" text-anchor="middle" font-weight="bold" fill="#000" stroke="#000" stroke-width="0.15">(f)</text>
<text x="22" y="361.4" font-size="11.5" text-anchor="middle" font-weight="bold" fill="#000" stroke="#000" stroke-width="0.15">(g)</text>
<text x="191.95" y="361.4" font-size="11.5" text-anchor="middle" font-weight="bold" fill="#000" stroke="#000" stroke-width="0.15">(i)</text>
<text x="362" y="361.4" font-size="11.5" text-anchor="middle" font-weight="bold" fill="#000" stroke="#000" stroke-width="0.15">(k)</text>
<text x="22" y="513" font-size="11.5" text-anchor="middle" font-weight="bold" fill="#000" stroke="#000" stroke-width="0.15">(h)</text>
<text x="191.95" y="513" font-size="11.5" text-anchor="middle" font-weight="bold" fill="#000" stroke="#000" stroke-width="0.15">(j)</text>
<text x="362" y="513" font-size="11.5" text-anchor="middle" font-weight="bold" fill="#000" stroke="#000" stroke-width="0.15">(l)</text>
</svg>
</body></html>
